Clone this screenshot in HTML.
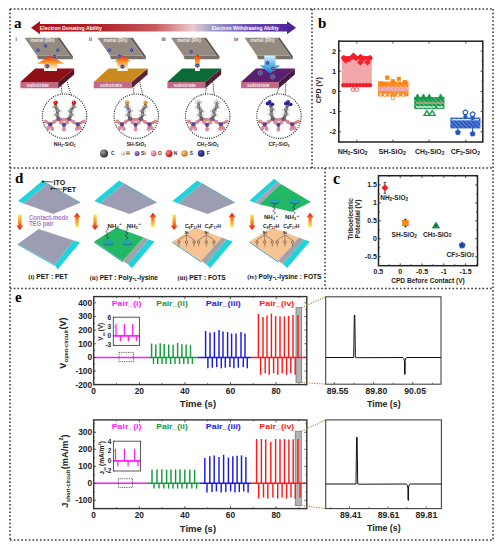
<!DOCTYPE html>
<html><head><meta charset="utf-8"><title>Figure</title>
<style>html,body{margin:0;padding:0;background:#fff;width:501px;height:550px;overflow:hidden}svg{display:block}</style>
</head><body>
<svg width="501" height="550" viewBox="0 0 501 550" style="display:block">
<defs>
<linearGradient id="topArrow" x1="31" x2="296" y1="0" y2="0" gradientUnits="userSpaceOnUse">
 <stop offset="0" stop-color="#a80f18"/><stop offset="0.26" stop-color="#b0222a"/>
 <stop offset="0.47" stop-color="#c85a60"/><stop offset="0.61" stop-color="#eacccc"/>
 <stop offset="0.68" stop-color="#9ea2cc"/><stop offset="0.83" stop-color="#6a48b0"/><stop offset="1" stop-color="#4a1d92"/></linearGradient>
<linearGradient id="upArrow" x1="0" x2="0" y1="0" y2="1">
 <stop offset="0" stop-color="#f21a0a"/><stop offset="0.45" stop-color="#ff9a28"/>
 <stop offset="0.8" stop-color="#ffe6c0"/><stop offset="1" stop-color="#ffffff"/></linearGradient>
<linearGradient id="downArrowBlue" x1="0" x2="0" y1="0" y2="1">
 <stop offset="0" stop-color="#d8f0ff"/><stop offset="0.5" stop-color="#58b8ee"/>
 <stop offset="1" stop-color="#1a78d0"/></linearGradient>
<linearGradient id="dArrowDown" x1="0" x2="0" y1="0" y2="1">
 <stop offset="0" stop-color="#ffe84a"/><stop offset="0.5" stop-color="#ff8a20"/>
 <stop offset="1" stop-color="#e01010"/></linearGradient>
<linearGradient id="dArrowUp" x1="0" x2="0" y1="0" y2="1">
 <stop offset="0" stop-color="#e01010"/><stop offset="0.5" stop-color="#ff8a20"/>
 <stop offset="1" stop-color="#ffe84a"/></linearGradient>
<radialGradient id="elec" cx="0.45" cy="0.45" r="0.6"><stop offset="0" stop-color="#3a4488"/><stop offset="1" stop-color="#1a2058"/></radialGradient>
<radialGradient id="ballC" cx="0.35" cy="0.35" r="0.7"><stop offset="0" stop-color="#a0a0a0"/><stop offset="1" stop-color="#282828"/></radialGradient>
<radialGradient id="ballH" cx="0.35" cy="0.35" r="0.7"><stop offset="0" stop-color="#ffffff"/><stop offset="1" stop-color="#a0a0a0"/></radialGradient>
<radialGradient id="ballSi" cx="0.35" cy="0.35" r="0.7"><stop offset="0" stop-color="#c090e0"/><stop offset="1" stop-color="#5a2a8a"/></radialGradient>
<radialGradient id="ballO" cx="0.35" cy="0.35" r="0.7"><stop offset="0" stop-color="#ffc0d0"/><stop offset="1" stop-color="#c05070"/></radialGradient>
<radialGradient id="ballN" cx="0.35" cy="0.35" r="0.7"><stop offset="0" stop-color="#ff9090"/><stop offset="1" stop-color="#c00000"/></radialGradient>
<radialGradient id="ballS" cx="0.35" cy="0.35" r="0.7"><stop offset="0" stop-color="#ffd080"/><stop offset="1" stop-color="#d06000"/></radialGradient>
<radialGradient id="ballF" cx="0.35" cy="0.35" r="0.7"><stop offset="0" stop-color="#5060c0"/><stop offset="1" stop-color="#0c1260"/></radialGradient>
<pattern id="hatchW" width="3" height="3" patternUnits="userSpaceOnUse" patternTransform="rotate(-45)"><line x1="0" y1="0" x2="0" y2="3" stroke="#ffffff" stroke-width="0.8" stroke-opacity="0.8"/></pattern>
</defs>
<rect width="501" height="550" fill="#ffffff"/>
<line x1="10" y1="9" x2="493" y2="9" stroke="#333" stroke-width="1.6" stroke-dasharray="1.6 2.15"/>
<line x1="10" y1="9" x2="10" y2="540" stroke="#333" stroke-width="1.6" stroke-dasharray="1.6 2.15"/>
<line x1="493" y1="9" x2="493" y2="540" stroke="#333" stroke-width="1.6" stroke-dasharray="1.6 2.15"/>
<line x1="10" y1="540" x2="493" y2="540" stroke="#333" stroke-width="1.6" stroke-dasharray="1.6 2.15"/>
<line x1="312" y1="9" x2="312" y2="168" stroke="#333" stroke-width="1.6" stroke-dasharray="1.6 2.15"/>
<line x1="10" y1="168" x2="493" y2="168" stroke="#333" stroke-width="1.6" stroke-dasharray="1.6 2.15"/>
<line x1="325" y1="168" x2="325" y2="288.5" stroke="#333" stroke-width="1.6" stroke-dasharray="1.6 2.15"/>
<line x1="10" y1="288.5" x2="493" y2="288.5" stroke="#333" stroke-width="1.6" stroke-dasharray="1.6 2.15"/>
<text x="14" y="28" font-size="15" font-weight="bold" fill="#000" text-anchor="start" font-family="Liberation Serif, serif" >a</text>
<text x="318" y="28" font-size="15" font-weight="bold" fill="#000" text-anchor="start" font-family="Liberation Serif, serif" >b</text>
<text x="15" y="183" font-size="15" font-weight="bold" fill="#000" text-anchor="start" font-family="Liberation Serif, serif" >d</text>
<text x="333" y="184" font-size="16" font-weight="bold" fill="#000" text-anchor="start" font-family="Liberation Serif, serif" >c</text>
<text x="15" y="302" font-size="15" font-weight="bold" fill="#000" text-anchor="start" font-family="Liberation Serif, serif" >e</text>
<polygon points="31.00,27.70 40.00,21.20 40.00,24.00 287.00,24.00 287.00,21.20 296.00,27.70 287.00,34.20 287.00,31.40 40.00,31.40 40.00,34.20" fill="url(#topArrow)" stroke="none" stroke-width="0" />
<text x="39.8" y="29.8" font-size="5.9" font-weight="bold" fill="#ffffff" text-anchor="start" font-family="Liberation Sans, sans-serif"  textLength="62" lengthAdjust="spacingAndGlyphs">Electron Donating Ability</text>
<text x="211.8" y="29.8" font-size="5.9" font-weight="bold" fill="#ffffff" text-anchor="start" font-family="Liberation Sans, sans-serif"  textLength="67" lengthAdjust="spacingAndGlyphs">Electron Withdrawing Ability</text>
<text x="15.5" y="40.8" font-size="5" font-weight="bold" fill="#444" text-anchor="start" font-family="Liberation Sans, sans-serif" >i</text>
<text x="89" y="40.8" font-size="5" font-weight="bold" fill="#444" text-anchor="start" font-family="Liberation Sans, sans-serif" >ii</text>
<text x="161.5" y="40.8" font-size="5" font-weight="bold" fill="#444" text-anchor="start" font-family="Liberation Sans, sans-serif" >iii</text>
<text x="234" y="40.8" font-size="5" font-weight="bold" fill="#444" text-anchor="start" font-family="Liberation Sans, sans-serif" >iv</text>
<polygon points="57.00,37.70 59.70,37.70 72.80,56.30 72.80,59.30 70.00,55.80" fill="#5f5a54" stroke="none" stroke-width="0" />
<polygon points="37.00,55.80 70.00,55.80 72.80,59.30 38.00,59.30" fill="#77716a" stroke="none" stroke-width="0" />
<polygon points="24.50,37.70 57.00,37.70 70.00,55.80 37.00,55.80" fill="#948a80" stroke="none" stroke-width="0" />
<text x="30.5" y="41.5" font-size="4.8" font-weight="bold" fill="#ece8e4" text-anchor="start" font-family="Liberation Sans, sans-serif"  textLength="24" lengthAdjust="spacingAndGlyphs">metal (Rh)</text>
<polygon points="20.40,82.00 58.20,82.00 58.20,88.20 20.40,88.20" fill="#c4688a" stroke="none" stroke-width="0" />
<polygon points="58.20,82.00 74.20,68.40 74.20,74.50 58.20,88.20" fill="#5e1428" stroke="none" stroke-width="0" />
<polygon points="35.20,68.40 74.20,68.40 58.20,82.00 20.40,82.00" fill="#8e0f14" stroke="none" stroke-width="0" />
<text x="26.4" y="87.2" font-size="5" font-weight="bold" fill="#f4e6ee" text-anchor="start" font-family="Liberation Sans, sans-serif" >substrate</text>
<polygon points="130.00,37.70 132.70,37.70 145.80,56.30 145.80,59.30 143.00,55.80" fill="#5f5a54" stroke="none" stroke-width="0" />
<polygon points="110.00,55.80 143.00,55.80 145.80,59.30 111.00,59.30" fill="#77716a" stroke="none" stroke-width="0" />
<polygon points="97.50,37.70 130.00,37.70 143.00,55.80 110.00,55.80" fill="#948a80" stroke="none" stroke-width="0" />
<text x="103.5" y="41.5" font-size="4.8" font-weight="bold" fill="#ece8e4" text-anchor="start" font-family="Liberation Sans, sans-serif"  textLength="24" lengthAdjust="spacingAndGlyphs">metal (Rh)</text>
<polygon points="93.80,82.00 131.60,82.00 131.60,88.20 93.80,88.20" fill="#c4688a" stroke="none" stroke-width="0" />
<polygon points="131.60,82.00 147.60,68.40 147.60,74.50 131.60,88.20" fill="#5e2038" stroke="none" stroke-width="0" />
<polygon points="108.60,68.40 147.60,68.40 131.60,82.00 93.80,82.00" fill="#c98a1e" stroke="none" stroke-width="0" />
<text x="99.80000000000001" y="87.2" font-size="5" font-weight="bold" fill="#f4e6ee" text-anchor="start" font-family="Liberation Sans, sans-serif" >substrate</text>
<polygon points="203.50,37.70 206.20,37.70 219.30,56.30 219.30,59.30 216.50,55.80" fill="#5f5a54" stroke="none" stroke-width="0" />
<polygon points="183.50,55.80 216.50,55.80 219.30,59.30 184.50,59.30" fill="#77716a" stroke="none" stroke-width="0" />
<polygon points="171.00,37.70 203.50,37.70 216.50,55.80 183.50,55.80" fill="#948a80" stroke="none" stroke-width="0" />
<text x="177" y="41.5" font-size="4.8" font-weight="bold" fill="#ece8e4" text-anchor="start" font-family="Liberation Sans, sans-serif"  textLength="24" lengthAdjust="spacingAndGlyphs">metal (Rh)</text>
<polygon points="167.40,82.00 205.20,82.00 205.20,88.20 167.40,88.20" fill="#c4688a" stroke="none" stroke-width="0" />
<polygon points="205.20,82.00 221.20,68.40 221.20,74.50 205.20,88.20" fill="#5a1f38" stroke="none" stroke-width="0" />
<polygon points="182.20,68.40 221.20,68.40 205.20,82.00 167.40,82.00" fill="#0c6a36" stroke="none" stroke-width="0" />
<text x="173.4" y="87.2" font-size="5" font-weight="bold" fill="#f4e6ee" text-anchor="start" font-family="Liberation Sans, sans-serif" >substrate</text>
<polygon points="277.00,37.70 279.70,37.70 292.80,56.30 292.80,59.30 290.00,55.80" fill="#5f5a54" stroke="none" stroke-width="0" />
<polygon points="257.00,55.80 290.00,55.80 292.80,59.30 258.00,59.30" fill="#77716a" stroke="none" stroke-width="0" />
<polygon points="244.50,37.70 277.00,37.70 290.00,55.80 257.00,55.80" fill="#948a80" stroke="none" stroke-width="0" />
<text x="250.5" y="41.5" font-size="4.8" font-weight="bold" fill="#ece8e4" text-anchor="start" font-family="Liberation Sans, sans-serif"  textLength="24" lengthAdjust="spacingAndGlyphs">metal (Rh)</text>
<polygon points="241.10,82.00 278.90,82.00 278.90,88.20 241.10,88.20" fill="#c4688a" stroke="none" stroke-width="0" />
<polygon points="278.90,82.00 294.90,68.40 294.90,74.50 278.90,88.20" fill="#4a1a40" stroke="none" stroke-width="0" />
<polygon points="255.90,68.40 294.90,68.40 278.90,82.00 241.10,82.00" fill="#5a2070" stroke="none" stroke-width="0" />
<text x="247.1" y="87.2" font-size="5" font-weight="bold" fill="#f4e6ee" text-anchor="start" font-family="Liberation Sans, sans-serif" >substrate</text>
<polygon points="50.50,55.50 64.50,63.70 57.00,63.70 57.00,71.00 44.00,71.00 44.00,63.70 36.50,63.70" fill="url(#upArrow)" stroke="none" stroke-width="0" />
<polygon points="122.50,55.00 130.50,61.40 127.70,61.40 127.70,71.00 117.30,71.00 117.30,61.40 114.50,61.40" fill="url(#upArrow)" stroke="none" stroke-width="0" />
<polygon points="197.40,54.20 201.70,58.40 199.80,58.40 199.80,71.00 195.00,71.00 195.00,58.40 193.10,58.40" fill="url(#upArrow)" stroke="none" stroke-width="0" />
<polygon points="264.30,55.50 275.50,55.50 275.50,65.30 280.50,65.30 270.00,73.50 259.50,65.30 264.30,65.30" fill="url(#downArrowBlue)" stroke="none" stroke-width="0" />
<circle cx="38" cy="50.2" r="2.1" fill="url(#elec)" stroke="#9aa4d4" stroke-width="0.7"/>
<line x1="37.1" y1="50.2" x2="38.9" y2="50.2" stroke="#fff" stroke-width="0.5"/>
<circle cx="45.5" cy="45.9" r="2.1" fill="url(#elec)" stroke="#9aa4d4" stroke-width="0.7"/>
<line x1="44.6" y1="45.9" x2="46.4" y2="45.9" stroke="#fff" stroke-width="0.5"/>
<circle cx="57.9" cy="50.2" r="2.1" fill="url(#elec)" stroke="#9aa4d4" stroke-width="0.7"/>
<line x1="57.0" y1="50.2" x2="58.8" y2="50.2" stroke="#fff" stroke-width="0.5"/>
<circle cx="54.4" cy="56.6" r="2.1" fill="url(#elec)" stroke="#9aa4d4" stroke-width="0.7"/>
<line x1="53.5" y1="56.6" x2="55.3" y2="56.6" stroke="#fff" stroke-width="0.5"/>
<circle cx="47.2" cy="66.1" r="2.1" fill="url(#elec)" stroke="#9aa4d4" stroke-width="0.7"/>
<line x1="46.300000000000004" y1="66.1" x2="48.1" y2="66.1" stroke="#fff" stroke-width="0.5"/>
<circle cx="109.5" cy="50.2" r="2.1" fill="url(#elec)" stroke="#9aa4d4" stroke-width="0.7"/>
<line x1="108.6" y1="50.2" x2="110.4" y2="50.2" stroke="#fff" stroke-width="0.5"/>
<circle cx="131.5" cy="50.2" r="2.1" fill="url(#elec)" stroke="#9aa4d4" stroke-width="0.7"/>
<line x1="130.6" y1="50.2" x2="132.4" y2="50.2" stroke="#fff" stroke-width="0.5"/>
<circle cx="119.5" cy="56.2" r="2.1" fill="url(#elec)" stroke="#9aa4d4" stroke-width="0.7"/>
<line x1="118.6" y1="56.2" x2="120.4" y2="56.2" stroke="#fff" stroke-width="0.5"/>
<circle cx="122.5" cy="66.5" r="2.1" fill="url(#elec)" stroke="#9aa4d4" stroke-width="0.7"/>
<line x1="121.6" y1="66.5" x2="123.4" y2="66.5" stroke="#fff" stroke-width="0.5"/>
<circle cx="191" cy="51.8" r="2.1" fill="url(#elec)" stroke="#9aa4d4" stroke-width="0.7"/>
<line x1="190.1" y1="51.8" x2="191.9" y2="51.8" stroke="#fff" stroke-width="0.5"/>
<circle cx="197.3" cy="65.3" r="2.1" fill="url(#elec)" stroke="#9aa4d4" stroke-width="0.7"/>
<line x1="196.4" y1="65.3" x2="198.20000000000002" y2="65.3" stroke="#fff" stroke-width="0.5"/>
<circle cx="267.5" cy="63" r="2.1" fill="url(#elec)" stroke="#9aa4d4" stroke-width="0.7"/>
<line x1="266.6" y1="63" x2="268.4" y2="63" stroke="#fff" stroke-width="0.5"/>
<circle cx="272.8" cy="68.5" r="2.1" fill="url(#elec)" stroke="#9aa4d4" stroke-width="0.7"/>
<line x1="271.90000000000003" y1="68.5" x2="273.7" y2="68.5" stroke="#fff" stroke-width="0.5"/>
<circle cx="260.3" cy="73" r="2.1" fill="url(#elec)" stroke="#9aa4d4" stroke-width="0.7"/>
<line x1="259.40000000000003" y1="73" x2="261.2" y2="73" stroke="#fff" stroke-width="0.5"/>
<circle cx="272.8" cy="76.8" r="2.1" fill="url(#elec)" stroke="#9aa4d4" stroke-width="0.7"/>
<line x1="271.90000000000003" y1="76.8" x2="273.7" y2="76.8" stroke="#fff" stroke-width="0.5"/>
<line x1="60.9" y1="82" x2="62.099999999999994" y2="94.5" stroke="#222" stroke-width="1" stroke-dasharray="1 1.1"/>
<line x1="65.9" y1="78" x2="71.1" y2="95" stroke="#222" stroke-width="1" stroke-dasharray="1 1.1"/>
<circle cx="64.6" cy="116.2" r="22.2" fill="#fff" stroke="#222" stroke-width="1.1" stroke-dasharray="1.1 1.2"/>
<line x1="45.70" y1="121.50" x2="50.30" y2="124.30" stroke="#cc7a84" stroke-width="2.6" stroke-linecap="round"/>
<line x1="50.30" y1="124.30" x2="54.00" y2="122.00" stroke="#cc7a84" stroke-width="2.6" stroke-linecap="round"/>
<line x1="54.00" y1="122.00" x2="58.50" y2="118.80" stroke="#cc7a84" stroke-width="2.6" stroke-linecap="round"/>
<line x1="58.50" y1="118.80" x2="63.80" y2="119.80" stroke="#cc7a84" stroke-width="2.6" stroke-linecap="round"/>
<line x1="63.80" y1="119.80" x2="69.10" y2="118.80" stroke="#cc7a84" stroke-width="2.6" stroke-linecap="round"/>
<line x1="69.10" y1="118.80" x2="73.40" y2="122.00" stroke="#cc7a84" stroke-width="2.6" stroke-linecap="round"/>
<line x1="73.40" y1="122.00" x2="77.80" y2="124.30" stroke="#cc7a84" stroke-width="2.6" stroke-linecap="round"/>
<line x1="77.80" y1="124.30" x2="83.80" y2="121.50" stroke="#cc7a84" stroke-width="2.6" stroke-linecap="round"/>
<line x1="50.30" y1="124.30" x2="52.30" y2="128.90" stroke="#cc7a84" stroke-width="2.6" stroke-linecap="round"/>
<line x1="64.00" y1="124.80" x2="64.00" y2="129.50" stroke="#cc7a84" stroke-width="2.6" stroke-linecap="round"/>
<line x1="77.80" y1="124.30" x2="76.90" y2="128.90" stroke="#cc7a84" stroke-width="2.6" stroke-linecap="round"/>
<line x1="58.50" y1="118.80" x2="61.00" y2="122.50" stroke="#cc7a84" stroke-width="2.6" stroke-linecap="round"/>
<line x1="61.00" y1="122.50" x2="64.00" y2="124.80" stroke="#cc7a84" stroke-width="2.6" stroke-linecap="round"/>
<line x1="64.00" y1="124.80" x2="67.20" y2="122.50" stroke="#cc7a84" stroke-width="2.6" stroke-linecap="round"/>
<line x1="67.20" y1="122.50" x2="69.10" y2="118.80" stroke="#cc7a84" stroke-width="2.6" stroke-linecap="round"/>
<line x1="50.30" y1="124.30" x2="48.10" y2="128.20" stroke="#cc7a84" stroke-width="2.6" stroke-linecap="round"/>
<line x1="77.80" y1="124.30" x2="80.10" y2="128.20" stroke="#cc7a84" stroke-width="2.6" stroke-linecap="round"/>
<circle cx="45.70" cy="121.50" r="1.9" fill="#e08a94"/>
<circle cx="54.00" cy="122.00" r="1.9" fill="#e08a94"/>
<circle cx="63.80" cy="119.80" r="1.9" fill="#e08a94"/>
<circle cx="73.40" cy="122.00" r="1.9" fill="#e08a94"/>
<circle cx="83.80" cy="121.50" r="1.9" fill="#e08a94"/>
<circle cx="52.30" cy="128.90" r="1.9" fill="#e08a94"/>
<circle cx="64.00" cy="129.50" r="1.9" fill="#e08a94"/>
<circle cx="76.90" cy="128.90" r="1.9" fill="#e08a94"/>
<circle cx="61.00" cy="122.50" r="1.9" fill="#e08a94"/>
<circle cx="67.20" cy="122.50" r="1.9" fill="#e08a94"/>
<circle cx="48.10" cy="128.20" r="1.9" fill="#e08a94"/>
<circle cx="80.10" cy="128.20" r="1.9" fill="#e08a94"/>
<circle cx="58.50" cy="118.80" r="2" fill="#4a4a9c"/>
<circle cx="69.10" cy="118.80" r="2" fill="#4a4a9c"/>
<circle cx="50.30" cy="124.30" r="2" fill="#4a4a9c"/>
<circle cx="64.00" cy="124.80" r="2" fill="#4a4a9c"/>
<circle cx="77.80" cy="124.30" r="2" fill="#4a4a9c"/>
<path d="M58.50,118.80 L56.87,114.75 L57.95,110.70 L55.42,106.65 L55.60,102.60" fill="none" stroke="#666" stroke-width="2.8" stroke-linecap="round" stroke-linejoin="round"/>
<circle cx="54.47" cy="115.15" r="1.05" fill="#e6e6e6" stroke="#9a9a9a" stroke-width="0.35"/>
<circle cx="59.27" cy="115.15" r="1.05" fill="#e6e6e6" stroke="#9a9a9a" stroke-width="0.35"/>
<circle cx="56.87" cy="114.75" r="1.8" fill="#7c7c7c"/>
<circle cx="56.37" cy="114.25" r="0.7" fill="#bdbdbd"/>
<circle cx="55.55" cy="111.10" r="1.05" fill="#e6e6e6" stroke="#9a9a9a" stroke-width="0.35"/>
<circle cx="60.35" cy="111.10" r="1.05" fill="#e6e6e6" stroke="#9a9a9a" stroke-width="0.35"/>
<circle cx="57.95" cy="110.70" r="1.8" fill="#7c7c7c"/>
<circle cx="57.45" cy="110.20" r="0.7" fill="#bdbdbd"/>
<circle cx="53.02" cy="107.05" r="1.05" fill="#e6e6e6" stroke="#9a9a9a" stroke-width="0.35"/>
<circle cx="57.82" cy="107.05" r="1.05" fill="#e6e6e6" stroke="#9a9a9a" stroke-width="0.35"/>
<circle cx="55.42" cy="106.65" r="1.8" fill="#7c7c7c"/>
<circle cx="54.92" cy="106.15" r="0.7" fill="#bdbdbd"/>
<circle cx="55.60" cy="102.60" r="2.2" fill="#e80c0c"/><circle cx="55.00" cy="101.90" r="0.8" fill="#ff7070"/><circle cx="55.00" cy="100.00" r="0.9" fill="#eee" stroke="#aaa" stroke-width="0.3"/>
<path d="M69.10,118.80 L71.20,114.75 L70.60,110.70 L73.60,106.65 L73.90,102.60" fill="none" stroke="#666" stroke-width="2.8" stroke-linecap="round" stroke-linejoin="round"/>
<circle cx="68.80" cy="115.15" r="1.05" fill="#e6e6e6" stroke="#9a9a9a" stroke-width="0.35"/>
<circle cx="73.60" cy="115.15" r="1.05" fill="#e6e6e6" stroke="#9a9a9a" stroke-width="0.35"/>
<circle cx="71.20" cy="114.75" r="1.8" fill="#7c7c7c"/>
<circle cx="70.70" cy="114.25" r="0.7" fill="#bdbdbd"/>
<circle cx="68.20" cy="111.10" r="1.05" fill="#e6e6e6" stroke="#9a9a9a" stroke-width="0.35"/>
<circle cx="73.00" cy="111.10" r="1.05" fill="#e6e6e6" stroke="#9a9a9a" stroke-width="0.35"/>
<circle cx="70.60" cy="110.70" r="1.8" fill="#7c7c7c"/>
<circle cx="70.10" cy="110.20" r="0.7" fill="#bdbdbd"/>
<circle cx="71.20" cy="107.05" r="1.05" fill="#e6e6e6" stroke="#9a9a9a" stroke-width="0.35"/>
<circle cx="76.00" cy="107.05" r="1.05" fill="#e6e6e6" stroke="#9a9a9a" stroke-width="0.35"/>
<circle cx="73.60" cy="106.65" r="1.8" fill="#7c7c7c"/>
<circle cx="73.10" cy="106.15" r="0.7" fill="#bdbdbd"/>
<circle cx="73.90" cy="102.60" r="2.2" fill="#e80c0c"/><circle cx="73.30" cy="101.90" r="0.8" fill="#ff7070"/><circle cx="73.30" cy="100.00" r="0.9" fill="#eee" stroke="#aaa" stroke-width="0.3"/>
<line x1="133.9" y1="82" x2="133.7" y2="94.5" stroke="#222" stroke-width="1" stroke-dasharray="1 1.1"/>
<line x1="138.9" y1="78" x2="142.7" y2="95" stroke="#222" stroke-width="1" stroke-dasharray="1 1.1"/>
<circle cx="136.2" cy="116.2" r="22.2" fill="#fff" stroke="#222" stroke-width="1.1" stroke-dasharray="1.1 1.2"/>
<line x1="117.30" y1="121.50" x2="121.90" y2="124.30" stroke="#cc7a84" stroke-width="2.6" stroke-linecap="round"/>
<line x1="121.90" y1="124.30" x2="125.60" y2="122.00" stroke="#cc7a84" stroke-width="2.6" stroke-linecap="round"/>
<line x1="125.60" y1="122.00" x2="130.10" y2="118.80" stroke="#cc7a84" stroke-width="2.6" stroke-linecap="round"/>
<line x1="130.10" y1="118.80" x2="135.40" y2="119.80" stroke="#cc7a84" stroke-width="2.6" stroke-linecap="round"/>
<line x1="135.40" y1="119.80" x2="140.70" y2="118.80" stroke="#cc7a84" stroke-width="2.6" stroke-linecap="round"/>
<line x1="140.70" y1="118.80" x2="145.00" y2="122.00" stroke="#cc7a84" stroke-width="2.6" stroke-linecap="round"/>
<line x1="145.00" y1="122.00" x2="149.40" y2="124.30" stroke="#cc7a84" stroke-width="2.6" stroke-linecap="round"/>
<line x1="149.40" y1="124.30" x2="155.40" y2="121.50" stroke="#cc7a84" stroke-width="2.6" stroke-linecap="round"/>
<line x1="121.90" y1="124.30" x2="123.90" y2="128.90" stroke="#cc7a84" stroke-width="2.6" stroke-linecap="round"/>
<line x1="135.60" y1="124.80" x2="135.60" y2="129.50" stroke="#cc7a84" stroke-width="2.6" stroke-linecap="round"/>
<line x1="149.40" y1="124.30" x2="148.50" y2="128.90" stroke="#cc7a84" stroke-width="2.6" stroke-linecap="round"/>
<line x1="130.10" y1="118.80" x2="132.60" y2="122.50" stroke="#cc7a84" stroke-width="2.6" stroke-linecap="round"/>
<line x1="132.60" y1="122.50" x2="135.60" y2="124.80" stroke="#cc7a84" stroke-width="2.6" stroke-linecap="round"/>
<line x1="135.60" y1="124.80" x2="138.80" y2="122.50" stroke="#cc7a84" stroke-width="2.6" stroke-linecap="round"/>
<line x1="138.80" y1="122.50" x2="140.70" y2="118.80" stroke="#cc7a84" stroke-width="2.6" stroke-linecap="round"/>
<line x1="121.90" y1="124.30" x2="119.70" y2="128.20" stroke="#cc7a84" stroke-width="2.6" stroke-linecap="round"/>
<line x1="149.40" y1="124.30" x2="151.70" y2="128.20" stroke="#cc7a84" stroke-width="2.6" stroke-linecap="round"/>
<circle cx="117.30" cy="121.50" r="1.9" fill="#e08a94"/>
<circle cx="125.60" cy="122.00" r="1.9" fill="#e08a94"/>
<circle cx="135.40" cy="119.80" r="1.9" fill="#e08a94"/>
<circle cx="145.00" cy="122.00" r="1.9" fill="#e08a94"/>
<circle cx="155.40" cy="121.50" r="1.9" fill="#e08a94"/>
<circle cx="123.90" cy="128.90" r="1.9" fill="#e08a94"/>
<circle cx="135.60" cy="129.50" r="1.9" fill="#e08a94"/>
<circle cx="148.50" cy="128.90" r="1.9" fill="#e08a94"/>
<circle cx="132.60" cy="122.50" r="1.9" fill="#e08a94"/>
<circle cx="138.80" cy="122.50" r="1.9" fill="#e08a94"/>
<circle cx="119.70" cy="128.20" r="1.9" fill="#e08a94"/>
<circle cx="151.70" cy="128.20" r="1.9" fill="#e08a94"/>
<circle cx="130.10" cy="118.80" r="2" fill="#4a4a9c"/>
<circle cx="140.70" cy="118.80" r="2" fill="#4a4a9c"/>
<circle cx="121.90" cy="124.30" r="2" fill="#4a4a9c"/>
<circle cx="135.60" cy="124.80" r="2" fill="#4a4a9c"/>
<circle cx="149.40" cy="124.30" r="2" fill="#4a4a9c"/>
<path d="M130.10,118.80 L128.47,114.75 L129.55,110.70 L127.02,106.65 L127.20,102.60" fill="none" stroke="#666" stroke-width="2.8" stroke-linecap="round" stroke-linejoin="round"/>
<circle cx="126.07" cy="115.15" r="1.05" fill="#e6e6e6" stroke="#9a9a9a" stroke-width="0.35"/>
<circle cx="130.88" cy="115.15" r="1.05" fill="#e6e6e6" stroke="#9a9a9a" stroke-width="0.35"/>
<circle cx="128.47" cy="114.75" r="1.8" fill="#7c7c7c"/>
<circle cx="127.97" cy="114.25" r="0.7" fill="#bdbdbd"/>
<circle cx="127.15" cy="111.10" r="1.05" fill="#e6e6e6" stroke="#9a9a9a" stroke-width="0.35"/>
<circle cx="131.95" cy="111.10" r="1.05" fill="#e6e6e6" stroke="#9a9a9a" stroke-width="0.35"/>
<circle cx="129.55" cy="110.70" r="1.8" fill="#7c7c7c"/>
<circle cx="129.05" cy="110.20" r="0.7" fill="#bdbdbd"/>
<circle cx="124.62" cy="107.05" r="1.05" fill="#e6e6e6" stroke="#9a9a9a" stroke-width="0.35"/>
<circle cx="129.42" cy="107.05" r="1.05" fill="#e6e6e6" stroke="#9a9a9a" stroke-width="0.35"/>
<circle cx="127.02" cy="106.65" r="1.8" fill="#7c7c7c"/>
<circle cx="126.52" cy="106.15" r="0.7" fill="#bdbdbd"/>
<circle cx="127.20" cy="102.60" r="2.1" fill="#ee8410"/><circle cx="126.60" cy="101.90" r="0.8" fill="#ffc070"/>
<path d="M140.70,118.80 L142.80,114.75 L142.20,110.70 L145.20,106.65 L145.50,102.60" fill="none" stroke="#666" stroke-width="2.8" stroke-linecap="round" stroke-linejoin="round"/>
<circle cx="140.40" cy="115.15" r="1.05" fill="#e6e6e6" stroke="#9a9a9a" stroke-width="0.35"/>
<circle cx="145.20" cy="115.15" r="1.05" fill="#e6e6e6" stroke="#9a9a9a" stroke-width="0.35"/>
<circle cx="142.80" cy="114.75" r="1.8" fill="#7c7c7c"/>
<circle cx="142.30" cy="114.25" r="0.7" fill="#bdbdbd"/>
<circle cx="139.80" cy="111.10" r="1.05" fill="#e6e6e6" stroke="#9a9a9a" stroke-width="0.35"/>
<circle cx="144.60" cy="111.10" r="1.05" fill="#e6e6e6" stroke="#9a9a9a" stroke-width="0.35"/>
<circle cx="142.20" cy="110.70" r="1.8" fill="#7c7c7c"/>
<circle cx="141.70" cy="110.20" r="0.7" fill="#bdbdbd"/>
<circle cx="142.80" cy="107.05" r="1.05" fill="#e6e6e6" stroke="#9a9a9a" stroke-width="0.35"/>
<circle cx="147.60" cy="107.05" r="1.05" fill="#e6e6e6" stroke="#9a9a9a" stroke-width="0.35"/>
<circle cx="145.20" cy="106.65" r="1.8" fill="#7c7c7c"/>
<circle cx="144.70" cy="106.15" r="0.7" fill="#bdbdbd"/>
<circle cx="145.50" cy="102.60" r="2.1" fill="#ee8410"/><circle cx="144.90" cy="101.90" r="0.8" fill="#ffc070"/>
<line x1="207.4" y1="82" x2="205.2" y2="94.5" stroke="#222" stroke-width="1" stroke-dasharray="1 1.1"/>
<line x1="212.4" y1="78" x2="214.2" y2="95" stroke="#222" stroke-width="1" stroke-dasharray="1 1.1"/>
<circle cx="207.7" cy="116.2" r="22.2" fill="#fff" stroke="#222" stroke-width="1.1" stroke-dasharray="1.1 1.2"/>
<line x1="188.80" y1="121.50" x2="193.40" y2="124.30" stroke="#cc7a84" stroke-width="2.6" stroke-linecap="round"/>
<line x1="193.40" y1="124.30" x2="197.10" y2="122.00" stroke="#cc7a84" stroke-width="2.6" stroke-linecap="round"/>
<line x1="197.10" y1="122.00" x2="201.60" y2="118.80" stroke="#cc7a84" stroke-width="2.6" stroke-linecap="round"/>
<line x1="201.60" y1="118.80" x2="206.90" y2="119.80" stroke="#cc7a84" stroke-width="2.6" stroke-linecap="round"/>
<line x1="206.90" y1="119.80" x2="212.20" y2="118.80" stroke="#cc7a84" stroke-width="2.6" stroke-linecap="round"/>
<line x1="212.20" y1="118.80" x2="216.50" y2="122.00" stroke="#cc7a84" stroke-width="2.6" stroke-linecap="round"/>
<line x1="216.50" y1="122.00" x2="220.90" y2="124.30" stroke="#cc7a84" stroke-width="2.6" stroke-linecap="round"/>
<line x1="220.90" y1="124.30" x2="226.90" y2="121.50" stroke="#cc7a84" stroke-width="2.6" stroke-linecap="round"/>
<line x1="193.40" y1="124.30" x2="195.40" y2="128.90" stroke="#cc7a84" stroke-width="2.6" stroke-linecap="round"/>
<line x1="207.10" y1="124.80" x2="207.10" y2="129.50" stroke="#cc7a84" stroke-width="2.6" stroke-linecap="round"/>
<line x1="220.90" y1="124.30" x2="220.00" y2="128.90" stroke="#cc7a84" stroke-width="2.6" stroke-linecap="round"/>
<line x1="201.60" y1="118.80" x2="204.10" y2="122.50" stroke="#cc7a84" stroke-width="2.6" stroke-linecap="round"/>
<line x1="204.10" y1="122.50" x2="207.10" y2="124.80" stroke="#cc7a84" stroke-width="2.6" stroke-linecap="round"/>
<line x1="207.10" y1="124.80" x2="210.30" y2="122.50" stroke="#cc7a84" stroke-width="2.6" stroke-linecap="round"/>
<line x1="210.30" y1="122.50" x2="212.20" y2="118.80" stroke="#cc7a84" stroke-width="2.6" stroke-linecap="round"/>
<line x1="193.40" y1="124.30" x2="191.20" y2="128.20" stroke="#cc7a84" stroke-width="2.6" stroke-linecap="round"/>
<line x1="220.90" y1="124.30" x2="223.20" y2="128.20" stroke="#cc7a84" stroke-width="2.6" stroke-linecap="round"/>
<circle cx="188.80" cy="121.50" r="1.9" fill="#e08a94"/>
<circle cx="197.10" cy="122.00" r="1.9" fill="#e08a94"/>
<circle cx="206.90" cy="119.80" r="1.9" fill="#e08a94"/>
<circle cx="216.50" cy="122.00" r="1.9" fill="#e08a94"/>
<circle cx="226.90" cy="121.50" r="1.9" fill="#e08a94"/>
<circle cx="195.40" cy="128.90" r="1.9" fill="#e08a94"/>
<circle cx="207.10" cy="129.50" r="1.9" fill="#e08a94"/>
<circle cx="220.00" cy="128.90" r="1.9" fill="#e08a94"/>
<circle cx="204.10" cy="122.50" r="1.9" fill="#e08a94"/>
<circle cx="210.30" cy="122.50" r="1.9" fill="#e08a94"/>
<circle cx="191.20" cy="128.20" r="1.9" fill="#e08a94"/>
<circle cx="223.20" cy="128.20" r="1.9" fill="#e08a94"/>
<circle cx="201.60" cy="118.80" r="2" fill="#4a4a9c"/>
<circle cx="212.20" cy="118.80" r="2" fill="#4a4a9c"/>
<circle cx="193.40" cy="124.30" r="2" fill="#4a4a9c"/>
<circle cx="207.10" cy="124.80" r="2" fill="#4a4a9c"/>
<circle cx="220.90" cy="124.30" r="2" fill="#4a4a9c"/>
<path d="M201.60,118.80 L199.97,114.85 L201.05,110.90 L198.52,106.95 L198.70,103.00" fill="none" stroke="#666" stroke-width="2.8" stroke-linecap="round" stroke-linejoin="round"/>
<circle cx="197.57" cy="115.25" r="1.05" fill="#e6e6e6" stroke="#9a9a9a" stroke-width="0.35"/>
<circle cx="202.38" cy="115.25" r="1.05" fill="#e6e6e6" stroke="#9a9a9a" stroke-width="0.35"/>
<circle cx="199.97" cy="114.85" r="1.8" fill="#7c7c7c"/>
<circle cx="199.47" cy="114.35" r="0.7" fill="#bdbdbd"/>
<circle cx="198.65" cy="111.30" r="1.05" fill="#e6e6e6" stroke="#9a9a9a" stroke-width="0.35"/>
<circle cx="203.45" cy="111.30" r="1.05" fill="#e6e6e6" stroke="#9a9a9a" stroke-width="0.35"/>
<circle cx="201.05" cy="110.90" r="1.8" fill="#7c7c7c"/>
<circle cx="200.55" cy="110.40" r="0.7" fill="#bdbdbd"/>
<circle cx="196.12" cy="107.35" r="1.05" fill="#e6e6e6" stroke="#9a9a9a" stroke-width="0.35"/>
<circle cx="200.92" cy="107.35" r="1.05" fill="#e6e6e6" stroke="#9a9a9a" stroke-width="0.35"/>
<circle cx="198.52" cy="106.95" r="1.8" fill="#7c7c7c"/>
<circle cx="198.02" cy="106.45" r="0.7" fill="#bdbdbd"/>
<circle cx="198.70" cy="103.00" r="1.8" fill="#8c8c8c"/>
<circle cx="196.50" cy="102.40" r="1.15" fill="#e6e6e6" stroke="#9a9a9a" stroke-width="0.35"/>
<circle cx="200.90" cy="102.40" r="1.15" fill="#e6e6e6" stroke="#9a9a9a" stroke-width="0.35"/>
<circle cx="198.70" cy="100.80" r="1.15" fill="#e6e6e6" stroke="#9a9a9a" stroke-width="0.35"/>
<path d="M212.20,118.80 L214.30,114.85 L213.70,110.90 L216.70,106.95 L217.00,103.00" fill="none" stroke="#666" stroke-width="2.8" stroke-linecap="round" stroke-linejoin="round"/>
<circle cx="211.90" cy="115.25" r="1.05" fill="#e6e6e6" stroke="#9a9a9a" stroke-width="0.35"/>
<circle cx="216.70" cy="115.25" r="1.05" fill="#e6e6e6" stroke="#9a9a9a" stroke-width="0.35"/>
<circle cx="214.30" cy="114.85" r="1.8" fill="#7c7c7c"/>
<circle cx="213.80" cy="114.35" r="0.7" fill="#bdbdbd"/>
<circle cx="211.30" cy="111.30" r="1.05" fill="#e6e6e6" stroke="#9a9a9a" stroke-width="0.35"/>
<circle cx="216.10" cy="111.30" r="1.05" fill="#e6e6e6" stroke="#9a9a9a" stroke-width="0.35"/>
<circle cx="213.70" cy="110.90" r="1.8" fill="#7c7c7c"/>
<circle cx="213.20" cy="110.40" r="0.7" fill="#bdbdbd"/>
<circle cx="214.30" cy="107.35" r="1.05" fill="#e6e6e6" stroke="#9a9a9a" stroke-width="0.35"/>
<circle cx="219.10" cy="107.35" r="1.05" fill="#e6e6e6" stroke="#9a9a9a" stroke-width="0.35"/>
<circle cx="216.70" cy="106.95" r="1.8" fill="#7c7c7c"/>
<circle cx="216.20" cy="106.45" r="0.7" fill="#bdbdbd"/>
<circle cx="217.00" cy="103.00" r="1.8" fill="#8c8c8c"/>
<circle cx="214.80" cy="102.40" r="1.15" fill="#e6e6e6" stroke="#9a9a9a" stroke-width="0.35"/>
<circle cx="219.20" cy="102.40" r="1.15" fill="#e6e6e6" stroke="#9a9a9a" stroke-width="0.35"/>
<circle cx="217.00" cy="100.80" r="1.15" fill="#e6e6e6" stroke="#9a9a9a" stroke-width="0.35"/>
<line x1="280.9" y1="82" x2="276.5" y2="94.5" stroke="#222" stroke-width="1" stroke-dasharray="1 1.1"/>
<line x1="285.9" y1="78" x2="285.5" y2="95" stroke="#222" stroke-width="1" stroke-dasharray="1 1.1"/>
<circle cx="279" cy="116.2" r="22.2" fill="#fff" stroke="#222" stroke-width="1.1" stroke-dasharray="1.1 1.2"/>
<line x1="260.10" y1="121.50" x2="264.70" y2="124.30" stroke="#cc7a84" stroke-width="2.6" stroke-linecap="round"/>
<line x1="264.70" y1="124.30" x2="268.40" y2="122.00" stroke="#cc7a84" stroke-width="2.6" stroke-linecap="round"/>
<line x1="268.40" y1="122.00" x2="272.90" y2="118.80" stroke="#cc7a84" stroke-width="2.6" stroke-linecap="round"/>
<line x1="272.90" y1="118.80" x2="278.20" y2="119.80" stroke="#cc7a84" stroke-width="2.6" stroke-linecap="round"/>
<line x1="278.20" y1="119.80" x2="283.50" y2="118.80" stroke="#cc7a84" stroke-width="2.6" stroke-linecap="round"/>
<line x1="283.50" y1="118.80" x2="287.80" y2="122.00" stroke="#cc7a84" stroke-width="2.6" stroke-linecap="round"/>
<line x1="287.80" y1="122.00" x2="292.20" y2="124.30" stroke="#cc7a84" stroke-width="2.6" stroke-linecap="round"/>
<line x1="292.20" y1="124.30" x2="298.20" y2="121.50" stroke="#cc7a84" stroke-width="2.6" stroke-linecap="round"/>
<line x1="264.70" y1="124.30" x2="266.70" y2="128.90" stroke="#cc7a84" stroke-width="2.6" stroke-linecap="round"/>
<line x1="278.40" y1="124.80" x2="278.40" y2="129.50" stroke="#cc7a84" stroke-width="2.6" stroke-linecap="round"/>
<line x1="292.20" y1="124.30" x2="291.30" y2="128.90" stroke="#cc7a84" stroke-width="2.6" stroke-linecap="round"/>
<line x1="272.90" y1="118.80" x2="275.40" y2="122.50" stroke="#cc7a84" stroke-width="2.6" stroke-linecap="round"/>
<line x1="275.40" y1="122.50" x2="278.40" y2="124.80" stroke="#cc7a84" stroke-width="2.6" stroke-linecap="round"/>
<line x1="278.40" y1="124.80" x2="281.60" y2="122.50" stroke="#cc7a84" stroke-width="2.6" stroke-linecap="round"/>
<line x1="281.60" y1="122.50" x2="283.50" y2="118.80" stroke="#cc7a84" stroke-width="2.6" stroke-linecap="round"/>
<line x1="264.70" y1="124.30" x2="262.50" y2="128.20" stroke="#cc7a84" stroke-width="2.6" stroke-linecap="round"/>
<line x1="292.20" y1="124.30" x2="294.50" y2="128.20" stroke="#cc7a84" stroke-width="2.6" stroke-linecap="round"/>
<circle cx="260.10" cy="121.50" r="1.9" fill="#e08a94"/>
<circle cx="268.40" cy="122.00" r="1.9" fill="#e08a94"/>
<circle cx="278.20" cy="119.80" r="1.9" fill="#e08a94"/>
<circle cx="287.80" cy="122.00" r="1.9" fill="#e08a94"/>
<circle cx="298.20" cy="121.50" r="1.9" fill="#e08a94"/>
<circle cx="266.70" cy="128.90" r="1.9" fill="#e08a94"/>
<circle cx="278.40" cy="129.50" r="1.9" fill="#e08a94"/>
<circle cx="291.30" cy="128.90" r="1.9" fill="#e08a94"/>
<circle cx="275.40" cy="122.50" r="1.9" fill="#e08a94"/>
<circle cx="281.60" cy="122.50" r="1.9" fill="#e08a94"/>
<circle cx="262.50" cy="128.20" r="1.9" fill="#e08a94"/>
<circle cx="294.50" cy="128.20" r="1.9" fill="#e08a94"/>
<circle cx="272.90" cy="118.80" r="2" fill="#4a4a9c"/>
<circle cx="283.50" cy="118.80" r="2" fill="#4a4a9c"/>
<circle cx="264.70" cy="124.30" r="2" fill="#4a4a9c"/>
<circle cx="278.40" cy="124.80" r="2" fill="#4a4a9c"/>
<circle cx="292.20" cy="124.30" r="2" fill="#4a4a9c"/>
<path d="M272.90,118.80 L271.03,114.07 L271.87,109.33 L270.00,104.60" fill="none" stroke="#666" stroke-width="2.8" stroke-linecap="round" stroke-linejoin="round"/>
<circle cx="268.63" cy="114.47" r="1.05" fill="#e6e6e6" stroke="#9a9a9a" stroke-width="0.35"/>
<circle cx="273.43" cy="114.47" r="1.05" fill="#e6e6e6" stroke="#9a9a9a" stroke-width="0.35"/>
<circle cx="271.03" cy="114.07" r="1.8" fill="#7c7c7c"/>
<circle cx="270.53" cy="113.57" r="0.7" fill="#bdbdbd"/>
<circle cx="269.47" cy="109.73" r="1.05" fill="#e6e6e6" stroke="#9a9a9a" stroke-width="0.35"/>
<circle cx="274.27" cy="109.73" r="1.05" fill="#e6e6e6" stroke="#9a9a9a" stroke-width="0.35"/>
<circle cx="271.87" cy="109.33" r="1.8" fill="#7c7c7c"/>
<circle cx="271.37" cy="108.83" r="0.7" fill="#bdbdbd"/>
<circle cx="267.60" cy="103.40" r="1.9" fill="#1c1c8c"/>
<circle cx="267.00" cy="102.80" r="0.7" fill="#5a5ac0"/>
<circle cx="272.30" cy="104.30" r="1.9" fill="#1c1c8c"/>
<circle cx="271.70" cy="103.70" r="0.7" fill="#5a5ac0"/>
<circle cx="269.70" cy="102.00" r="1.9" fill="#1c1c8c"/>
<circle cx="269.10" cy="101.40" r="0.7" fill="#5a5ac0"/>
<path d="M283.50,118.80 L286.00,114.07 L285.80,109.33 L288.30,104.60" fill="none" stroke="#666" stroke-width="2.8" stroke-linecap="round" stroke-linejoin="round"/>
<circle cx="283.60" cy="114.47" r="1.05" fill="#e6e6e6" stroke="#9a9a9a" stroke-width="0.35"/>
<circle cx="288.40" cy="114.47" r="1.05" fill="#e6e6e6" stroke="#9a9a9a" stroke-width="0.35"/>
<circle cx="286.00" cy="114.07" r="1.8" fill="#7c7c7c"/>
<circle cx="285.50" cy="113.57" r="0.7" fill="#bdbdbd"/>
<circle cx="283.40" cy="109.73" r="1.05" fill="#e6e6e6" stroke="#9a9a9a" stroke-width="0.35"/>
<circle cx="288.20" cy="109.73" r="1.05" fill="#e6e6e6" stroke="#9a9a9a" stroke-width="0.35"/>
<circle cx="285.80" cy="109.33" r="1.8" fill="#7c7c7c"/>
<circle cx="285.30" cy="108.83" r="0.7" fill="#bdbdbd"/>
<circle cx="285.90" cy="103.40" r="1.9" fill="#1c1c8c"/>
<circle cx="285.30" cy="102.80" r="0.7" fill="#5a5ac0"/>
<circle cx="290.60" cy="104.30" r="1.9" fill="#1c1c8c"/>
<circle cx="290.00" cy="103.70" r="0.7" fill="#5a5ac0"/>
<circle cx="288.00" cy="102.00" r="1.9" fill="#1c1c8c"/>
<circle cx="287.40" cy="101.40" r="0.7" fill="#5a5ac0"/>
<text x="64.6" y="145.6" font-size="5.2" font-weight="bold" fill="#222" text-anchor="middle" font-family="Liberation Sans, sans-serif">NH<tspan font-size="3.12" dy="1">2</tspan><tspan dy="-1">-SiO</tspan><tspan font-size="3.12" dy="1">2</tspan></text>
<text x="136.2" y="145.6" font-size="5.2" font-weight="bold" fill="#222" text-anchor="middle" font-family="Liberation Sans, sans-serif">SH-SiO<tspan font-size="3.12" dy="1">2</tspan></text>
<text x="207.7" y="145.6" font-size="5.2" font-weight="bold" fill="#222" text-anchor="middle" font-family="Liberation Sans, sans-serif">CH<tspan font-size="3.12" dy="1">3</tspan><tspan dy="-1">-SiO</tspan><tspan font-size="3.12" dy="1">2</tspan></text>
<text x="279" y="145.6" font-size="5.2" font-weight="bold" fill="#222" text-anchor="middle" font-family="Liberation Sans, sans-serif">CF<tspan font-size="3.12" dy="1">3</tspan><tspan dy="-1">-SiO</tspan><tspan font-size="3.12" dy="1">2</tspan></text>
<circle cx="104" cy="153.4" r="4" fill="url(#ballC)"/>
<text x="111" y="155.2" font-size="4.8" font-weight="bold" fill="#333" text-anchor="start" font-family="Liberation Sans, sans-serif" >C</text>
<circle cx="123" cy="153.4" r="2.2" fill="url(#ballH)"/>
<text x="126.3" y="155.2" font-size="4.8" font-weight="bold" fill="#333" text-anchor="start" font-family="Liberation Sans, sans-serif" >H</text>
<circle cx="137" cy="153.4" r="2.5" fill="url(#ballSi)"/>
<text x="141" y="155.2" font-size="4.8" font-weight="bold" fill="#333" text-anchor="start" font-family="Liberation Sans, sans-serif" >Si</text>
<circle cx="153.7" cy="153.4" r="2.8" fill="url(#ballO)"/>
<text x="157.9" y="155.2" font-size="4.8" font-weight="bold" fill="#333" text-anchor="start" font-family="Liberation Sans, sans-serif" >O</text>
<circle cx="169" cy="153.4" r="3.5" fill="url(#ballN)"/>
<text x="173.8" y="155.2" font-size="4.8" font-weight="bold" fill="#333" text-anchor="start" font-family="Liberation Sans, sans-serif" >N</text>
<circle cx="184.4" cy="153.4" r="3.2" fill="url(#ballS)"/>
<text x="189.7" y="155.2" font-size="4.8" font-weight="bold" fill="#333" text-anchor="start" font-family="Liberation Sans, sans-serif" >S</text>
<circle cx="201.2" cy="153.4" r="3.3" fill="url(#ballF)"/>
<text x="206.8" y="155.2" font-size="4.8" font-weight="bold" fill="#333" text-anchor="start" font-family="Liberation Sans, sans-serif" >F</text>
<rect x="338.8" y="41.2" width="144.0" height="100.8" fill="none" stroke="#222" stroke-width="1.5"/>
<line x1="338.8" y1="141.9" x2="340.2" y2="141.9" stroke="#333" stroke-width="0.9"/>
<line x1="482.8" y1="141.9" x2="481.40000000000003" y2="141.9" stroke="#333" stroke-width="0.9"/>
<line x1="338.8" y1="131.8" x2="341.1" y2="131.8" stroke="#333" stroke-width="0.9"/>
<line x1="482.8" y1="131.8" x2="480.5" y2="131.8" stroke="#333" stroke-width="0.9"/>
<text x="336.2" y="134.4" font-size="7.4" font-weight="bold" fill="#222" text-anchor="end" font-family="Liberation Sans, sans-serif" >-2</text>
<line x1="338.8" y1="121.7" x2="340.2" y2="121.7" stroke="#333" stroke-width="0.9"/>
<line x1="482.8" y1="121.7" x2="481.40000000000003" y2="121.7" stroke="#333" stroke-width="0.9"/>
<line x1="338.8" y1="111.60000000000001" x2="341.1" y2="111.60000000000001" stroke="#333" stroke-width="0.9"/>
<line x1="482.8" y1="111.60000000000001" x2="480.5" y2="111.60000000000001" stroke="#333" stroke-width="0.9"/>
<text x="336.2" y="114.2" font-size="7.4" font-weight="bold" fill="#222" text-anchor="end" font-family="Liberation Sans, sans-serif" >-1</text>
<line x1="338.8" y1="101.5" x2="340.2" y2="101.5" stroke="#333" stroke-width="0.9"/>
<line x1="482.8" y1="101.5" x2="481.40000000000003" y2="101.5" stroke="#333" stroke-width="0.9"/>
<line x1="338.8" y1="91.4" x2="341.1" y2="91.4" stroke="#333" stroke-width="0.9"/>
<line x1="482.8" y1="91.4" x2="480.5" y2="91.4" stroke="#333" stroke-width="0.9"/>
<text x="336.2" y="94.0" font-size="7.4" font-weight="bold" fill="#222" text-anchor="end" font-family="Liberation Sans, sans-serif" >0</text>
<line x1="338.8" y1="81.30000000000001" x2="340.2" y2="81.30000000000001" stroke="#333" stroke-width="0.9"/>
<line x1="482.8" y1="81.30000000000001" x2="481.40000000000003" y2="81.30000000000001" stroke="#333" stroke-width="0.9"/>
<line x1="338.8" y1="71.2" x2="341.1" y2="71.2" stroke="#333" stroke-width="0.9"/>
<line x1="482.8" y1="71.2" x2="480.5" y2="71.2" stroke="#333" stroke-width="0.9"/>
<text x="336.2" y="73.8" font-size="7.4" font-weight="bold" fill="#222" text-anchor="end" font-family="Liberation Sans, sans-serif" >1</text>
<line x1="338.8" y1="61.10000000000001" x2="340.2" y2="61.10000000000001" stroke="#333" stroke-width="0.9"/>
<line x1="482.8" y1="61.10000000000001" x2="481.40000000000003" y2="61.10000000000001" stroke="#333" stroke-width="0.9"/>
<line x1="338.8" y1="51.00000000000001" x2="341.1" y2="51.00000000000001" stroke="#333" stroke-width="0.9"/>
<line x1="482.8" y1="51.00000000000001" x2="480.5" y2="51.00000000000001" stroke="#333" stroke-width="0.9"/>
<text x="336.2" y="53.60000000000001" font-size="7.4" font-weight="bold" fill="#222" text-anchor="end" font-family="Liberation Sans, sans-serif" >2</text>
<line x1="338.8" y1="40.900000000000006" x2="340.2" y2="40.900000000000006" stroke="#333" stroke-width="0.9"/>
<line x1="482.8" y1="40.900000000000006" x2="481.40000000000003" y2="40.900000000000006" stroke="#333" stroke-width="0.9"/>
<line x1="356.8" y1="142" x2="356.8" y2="139.7" stroke="#333" stroke-width="0.9"/>
<line x1="356.8" y1="41.2" x2="356.8" y2="43.5" stroke="#333" stroke-width="0.9"/>
<line x1="393" y1="142" x2="393" y2="139.7" stroke="#333" stroke-width="0.9"/>
<line x1="393" y1="41.2" x2="393" y2="43.5" stroke="#333" stroke-width="0.9"/>
<line x1="429.1" y1="142" x2="429.1" y2="139.7" stroke="#333" stroke-width="0.9"/>
<line x1="429.1" y1="41.2" x2="429.1" y2="43.5" stroke="#333" stroke-width="0.9"/>
<line x1="465.8" y1="142" x2="465.8" y2="139.7" stroke="#333" stroke-width="0.9"/>
<line x1="465.8" y1="41.2" x2="465.8" y2="43.5" stroke="#333" stroke-width="0.9"/>
<text transform="translate(321.2,90.3) rotate(-90)" font-size="7" font-weight="bold" fill="#222" text-anchor="middle" font-family="Liberation Sans, sans-serif">CPD (V)</text>
<text x="337.8" y="154.4" font-size="6.6" font-weight="bold" fill="#222" font-family="Liberation Sans, sans-serif" textLength="29.8" lengthAdjust="spacingAndGlyphs">NH<tspan font-size="4.752" dy="0.7">2</tspan><tspan dy="-0.7">-SiO</tspan><tspan font-size="4.752" dy="0.7">2</tspan></text>
<text x="378.6" y="154.4" font-size="6.6" font-weight="bold" fill="#222" font-family="Liberation Sans, sans-serif" textLength="27.4" lengthAdjust="spacingAndGlyphs">SH-SiO<tspan font-size="4.752" dy="0.7">2</tspan></text>
<text x="415" y="154.4" font-size="6.6" font-weight="bold" fill="#222" font-family="Liberation Sans, sans-serif" textLength="29.4" lengthAdjust="spacingAndGlyphs">CH<tspan font-size="4.752" dy="0.7">3</tspan><tspan dy="-0.7">-SiO</tspan><tspan font-size="4.752" dy="0.7">2</tspan></text>
<text x="450.8" y="154.4" font-size="6.6" font-weight="bold" fill="#222" font-family="Liberation Sans, sans-serif" textLength="29.2" lengthAdjust="spacingAndGlyphs">CF<tspan font-size="4.752" dy="0.7">3</tspan><tspan dy="-0.7">-SiO</tspan><tspan font-size="4.752" dy="0.7">2</tspan></text>
<rect x="341.8" y="57" width="30" height="28" fill="#f2a6aa"/>
<rect x="341.8" y="56.1" width="30" height="3.4" fill="#f41e28"/>
<rect x="341.8" y="84" width="30" height="2.4" fill="#f41e28"/>
<polygon points="343.80,55.10 346.70,58.00 343.80,60.90 340.90,58.00" fill="#f41e28" stroke="#f41e28" stroke-width="0.7" />
<polygon points="345.70,57.50 348.60,60.40 345.70,63.30 342.80,60.40" fill="#f41e28" stroke="#f41e28" stroke-width="0.7" />
<polygon points="349.10,56.20 352.00,59.10 349.10,62.00 346.20,59.10" fill="#f41e28" stroke="#f41e28" stroke-width="0.7" />
<polygon points="353.40,52.80 356.30,55.70 353.40,58.60 350.50,55.70" fill="#f41e28" stroke="#f41e28" stroke-width="0.7" />
<polygon points="356.00,55.10 358.90,58.00 356.00,60.90 353.10,58.00" fill="#f41e28" stroke="#f41e28" stroke-width="0.7" />
<polygon points="360.40,54.10 363.30,57.00 360.40,59.90 357.50,57.00" fill="#f41e28" stroke="#f41e28" stroke-width="0.7" />
<polygon points="363.50,55.60 366.40,58.50 363.50,61.40 360.60,58.50" fill="#f41e28" stroke="#f41e28" stroke-width="0.7" />
<polygon points="360.40,59.40 363.30,62.30 360.40,65.20 357.50,62.30" fill="#f41e28" stroke="#f41e28" stroke-width="0.7" />
<polygon points="367.50,59.40 370.40,62.30 367.50,65.20 364.60,62.30" fill="#f41e28" stroke="#f41e28" stroke-width="0.7" />
<polygon points="369.80,55.10 372.70,58.00 369.80,60.90 366.90,58.00" fill="#f41e28" stroke="#f41e28" stroke-width="0.7" />
<circle cx="343.5" cy="85.2" r="1.9" fill="#f41e28" stroke="#f41e28" stroke-width="0.7"/>
<circle cx="346.8" cy="85.2" r="1.9" fill="#f41e28" stroke="#f41e28" stroke-width="0.7"/>
<circle cx="350" cy="85.2" r="1.9" fill="#f41e28" stroke="#f41e28" stroke-width="0.7"/>
<circle cx="353.3" cy="85.2" r="1.9" fill="#f41e28" stroke="#f41e28" stroke-width="0.7"/>
<circle cx="356.6" cy="85.2" r="1.9" fill="#f41e28" stroke="#f41e28" stroke-width="0.7"/>
<circle cx="359.9" cy="85.2" r="1.9" fill="#f41e28" stroke="#f41e28" stroke-width="0.7"/>
<circle cx="363.2" cy="85.2" r="1.9" fill="#f41e28" stroke="#f41e28" stroke-width="0.7"/>
<circle cx="366.5" cy="85.2" r="1.9" fill="#f41e28" stroke="#f41e28" stroke-width="0.7"/>
<circle cx="369.8" cy="85.2" r="1.9" fill="#f41e28" stroke="#f41e28" stroke-width="0.7"/>
<circle cx="353" cy="89.6" r="1.9" fill="#fff" stroke="#f41e28" stroke-width="0.7"/>
<circle cx="356.6" cy="89.6" r="1.9" fill="#fff" stroke="#f41e28" stroke-width="0.7"/>
<rect x="378" y="81.6" width="30.5" height="14.7" fill="#ff8412"/>
<rect x="378.5" y="86.6" width="29.5" height="4.6" fill="#eaa0a8"/>
<rect x="378" y="81.6" width="30.5" height="14.7" fill="url(#hatchW)" opacity="0.8"/>
<rect x="385.5" y="75.89999999999999" width="3.4" height="3.4" fill="#ff8412" stroke="#ff8412" stroke-width="0.7"/>
<rect x="397.1" y="77.1" width="3.4" height="3.4" fill="#ff8412" stroke="#ff8412" stroke-width="0.7"/>
<rect x="391.1" y="79.5" width="3.4" height="3.4" fill="#ff8412" stroke="#ff8412" stroke-width="0.7"/>
<rect x="403.40000000000003" y="80.3" width="3.4" height="3.4" fill="#ff8412" stroke="#ff8412" stroke-width="0.7"/>
<rect x="379.3" y="81.8" width="3.4" height="3.4" fill="#ff8412" stroke="#ff8412" stroke-width="0.7"/>
<rect x="382.8" y="82.3" width="3.4" height="3.4" fill="#ff8412" stroke="#ff8412" stroke-width="0.7"/>
<rect x="379.2" y="93.3" width="2.6" height="2.6" fill="#fff" stroke="#ff8412" stroke-width="0.7"/>
<rect x="383.7" y="93.5" width="2.6" height="2.6" fill="#fff" stroke="#ff8412" stroke-width="0.7"/>
<rect x="388.2" y="93.3" width="2.6" height="2.6" fill="#fff" stroke="#ff8412" stroke-width="0.7"/>
<rect x="396.7" y="93.5" width="2.6" height="2.6" fill="#fff" stroke="#ff8412" stroke-width="0.7"/>
<rect x="402.0" y="93.5" width="2.6" height="2.6" fill="#fff" stroke="#ff8412" stroke-width="0.7"/>
<rect x="391.59999999999997" y="96.30000000000001" width="3.2" height="3.2" fill="#fff" stroke="#ff8412" stroke-width="0.7"/>
<rect x="414.2" y="97" width="30.2" height="12" fill="#149a48"/>
<rect x="414.2" y="97" width="30.2" height="12" fill="url(#hatchW)"/>
<rect x="416" y="102.4" width="27" height="1.2" fill="#f0a8a0" opacity="0.9"/>
<rect x="416" y="106.4" width="19" height="1.2" fill="#fff"/>
<rect x="437" y="106.4" width="6" height="1.2" fill="#fff"/>
<polygon points="417.50,93.90 420.55,98.97 414.45,98.97" fill="#149a48" stroke="#149a48" stroke-width="0.7" />
<polygon points="423.50,93.90 426.55,98.97 420.45,98.97" fill="#149a48" stroke="#149a48" stroke-width="0.7" />
<polygon points="429.20,93.90 432.25,98.97 426.15,98.97" fill="#149a48" stroke="#149a48" stroke-width="0.7" />
<polygon points="440.70,93.90 443.75,98.97 437.65,98.97" fill="#149a48" stroke="#149a48" stroke-width="0.7" />
<polygon points="426.90,110.60 429.80,115.30 424.00,115.30" fill="#fff" stroke="#149a48" stroke-width="1.3" />
<polygon points="432.20,110.60 435.10,115.30 429.30,115.30" fill="#fff" stroke="#149a48" stroke-width="1.3" />
<rect x="450.4" y="117.6" width="30" height="10.8" fill="#2456c2"/>
<rect x="450.4" y="117.6" width="30" height="10.8" fill="url(#hatchW)"/>
<rect x="452" y="119.2" width="27" height="1.1" fill="#fff"/>
<circle cx="465.4" cy="116.8" r="1.8" fill="#2456c2" stroke="#2456c2" stroke-width="0.7"/>
<circle cx="472.6" cy="118.3" r="1.8" fill="#2456c2" stroke="#2456c2" stroke-width="0.7"/>
<polygon points="465.40,109.80 467.87,111.60 466.93,114.50 463.87,114.50 462.93,111.60" fill="#fff" stroke="#2456c2" stroke-width="1.1" />
<polygon points="472.60,111.70 475.07,113.50 474.13,116.40 471.07,116.40 470.13,113.50" fill="#fff" stroke="#2456c2" stroke-width="1.1" />
<line x1="457.9" y1="128" x2="457.9" y2="131" stroke="#2456c2" stroke-width="1"/>
<line x1="472.6" y1="128" x2="472.6" y2="132" stroke="#2456c2" stroke-width="1"/>
<polygon points="457.90,129.70 460.47,131.57 459.49,134.58 456.31,134.58 455.33,131.57" fill="#2456c2" stroke="#2456c2" stroke-width="0.7" />
<polygon points="472.60,131.10 475.17,132.97 474.19,135.98 471.01,135.98 470.03,132.97" fill="#2456c2" stroke="#2456c2" stroke-width="0.7" />
<rect x="378.5" y="175.7" width="99.0" height="90.0" fill="none" stroke="#222" stroke-width="1.5"/>
<line x1="378.5" y1="256.75" x2="380.8" y2="256.75" stroke="#333" stroke-width="0.9"/>
<line x1="477.5" y1="256.75" x2="475.2" y2="256.75" stroke="#333" stroke-width="0.9"/>
<text x="376.9" y="259.25" font-size="7" font-weight="bold" fill="#222" text-anchor="end" font-family="Liberation Sans, sans-serif" >-0.5</text>
<line x1="378.5" y1="247.775" x2="379.9" y2="247.775" stroke="#333" stroke-width="0.9"/>
<line x1="477.5" y1="247.775" x2="476.1" y2="247.775" stroke="#333" stroke-width="0.9"/>
<line x1="378.5" y1="238.8" x2="380.8" y2="238.8" stroke="#333" stroke-width="0.9"/>
<line x1="477.5" y1="238.8" x2="475.2" y2="238.8" stroke="#333" stroke-width="0.9"/>
<text x="376.9" y="241.3" font-size="7" font-weight="bold" fill="#222" text-anchor="end" font-family="Liberation Sans, sans-serif" >0</text>
<line x1="378.5" y1="229.82500000000002" x2="379.9" y2="229.82500000000002" stroke="#333" stroke-width="0.9"/>
<line x1="477.5" y1="229.82500000000002" x2="476.1" y2="229.82500000000002" stroke="#333" stroke-width="0.9"/>
<line x1="378.5" y1="220.85000000000002" x2="380.8" y2="220.85000000000002" stroke="#333" stroke-width="0.9"/>
<line x1="477.5" y1="220.85000000000002" x2="475.2" y2="220.85000000000002" stroke="#333" stroke-width="0.9"/>
<text x="376.9" y="223.35000000000002" font-size="7" font-weight="bold" fill="#222" text-anchor="end" font-family="Liberation Sans, sans-serif" >0.5</text>
<line x1="378.5" y1="211.875" x2="379.9" y2="211.875" stroke="#333" stroke-width="0.9"/>
<line x1="477.5" y1="211.875" x2="476.1" y2="211.875" stroke="#333" stroke-width="0.9"/>
<line x1="378.5" y1="202.9" x2="380.8" y2="202.9" stroke="#333" stroke-width="0.9"/>
<line x1="477.5" y1="202.9" x2="475.2" y2="202.9" stroke="#333" stroke-width="0.9"/>
<text x="376.9" y="205.4" font-size="7" font-weight="bold" fill="#222" text-anchor="end" font-family="Liberation Sans, sans-serif" >1</text>
<line x1="378.5" y1="193.925" x2="379.9" y2="193.925" stroke="#333" stroke-width="0.9"/>
<line x1="477.5" y1="193.925" x2="476.1" y2="193.925" stroke="#333" stroke-width="0.9"/>
<line x1="378.5" y1="184.95000000000002" x2="380.8" y2="184.95000000000002" stroke="#333" stroke-width="0.9"/>
<line x1="477.5" y1="184.95000000000002" x2="475.2" y2="184.95000000000002" stroke="#333" stroke-width="0.9"/>
<text x="376.9" y="187.45000000000002" font-size="7" font-weight="bold" fill="#222" text-anchor="end" font-family="Liberation Sans, sans-serif" >1.5</text>
<line x1="476.5" y1="265.7" x2="476.5" y2="264.3" stroke="#333" stroke-width="0.9"/>
<line x1="476.5" y1="175.7" x2="476.5" y2="177.1" stroke="#333" stroke-width="0.9"/>
<line x1="465.6" y1="265.7" x2="465.6" y2="263.4" stroke="#333" stroke-width="0.9"/>
<line x1="465.6" y1="175.7" x2="465.6" y2="178.0" stroke="#333" stroke-width="0.9"/>
<text x="465.6" y="273.6" font-size="7" font-weight="bold" fill="#222" text-anchor="middle" font-family="Liberation Sans, sans-serif" >-1.5</text>
<line x1="454.7" y1="265.7" x2="454.7" y2="264.3" stroke="#333" stroke-width="0.9"/>
<line x1="454.7" y1="175.7" x2="454.7" y2="177.1" stroke="#333" stroke-width="0.9"/>
<line x1="443.8" y1="265.7" x2="443.8" y2="263.4" stroke="#333" stroke-width="0.9"/>
<line x1="443.8" y1="175.7" x2="443.8" y2="178.0" stroke="#333" stroke-width="0.9"/>
<text x="443.8" y="273.6" font-size="7" font-weight="bold" fill="#222" text-anchor="middle" font-family="Liberation Sans, sans-serif" >-1</text>
<line x1="432.9" y1="265.7" x2="432.9" y2="264.3" stroke="#333" stroke-width="0.9"/>
<line x1="432.9" y1="175.7" x2="432.9" y2="177.1" stroke="#333" stroke-width="0.9"/>
<line x1="422.0" y1="265.7" x2="422.0" y2="263.4" stroke="#333" stroke-width="0.9"/>
<line x1="422.0" y1="175.7" x2="422.0" y2="178.0" stroke="#333" stroke-width="0.9"/>
<text x="422.0" y="273.6" font-size="7" font-weight="bold" fill="#222" text-anchor="middle" font-family="Liberation Sans, sans-serif" >-0.5</text>
<line x1="411.09999999999997" y1="265.7" x2="411.09999999999997" y2="264.3" stroke="#333" stroke-width="0.9"/>
<line x1="411.09999999999997" y1="175.7" x2="411.09999999999997" y2="177.1" stroke="#333" stroke-width="0.9"/>
<line x1="400.2" y1="265.7" x2="400.2" y2="263.4" stroke="#333" stroke-width="0.9"/>
<line x1="400.2" y1="175.7" x2="400.2" y2="178.0" stroke="#333" stroke-width="0.9"/>
<text x="400.2" y="273.6" font-size="7" font-weight="bold" fill="#222" text-anchor="middle" font-family="Liberation Sans, sans-serif" >0</text>
<line x1="389.3" y1="265.7" x2="389.3" y2="264.3" stroke="#333" stroke-width="0.9"/>
<line x1="389.3" y1="175.7" x2="389.3" y2="177.1" stroke="#333" stroke-width="0.9"/>
<line x1="378.4" y1="265.7" x2="378.4" y2="263.4" stroke="#333" stroke-width="0.9"/>
<line x1="378.4" y1="175.7" x2="378.4" y2="178.0" stroke="#333" stroke-width="0.9"/>
<text x="378.4" y="273.6" font-size="7" font-weight="bold" fill="#222" text-anchor="middle" font-family="Liberation Sans, sans-serif" >0.5</text>
<text x="428" y="283.3" font-size="6.6" font-weight="bold" fill="#222" text-anchor="middle" font-family="Liberation Sans, sans-serif" >CPD Before Contact (V)</text>
<text transform="translate(352.6,219) rotate(-90)" font-size="7" font-weight="bold" fill="#222" text-anchor="middle" font-family="Liberation Sans, sans-serif">Triboelectric</text>
<text transform="translate(360.1,219) rotate(-90)" font-size="6.7" font-weight="bold" fill="#222" text-anchor="middle" font-family="Liberation Sans, sans-serif">Potential (V)</text>
<line x1="384.94" y1="182.322" x2="384.94" y2="193.322" stroke="#222" stroke-width="0.8"/>
<line x1="383.64" y1="182.322" x2="386.24" y2="182.322" stroke="#222" stroke-width="0.8"/>
<line x1="383.64" y1="193.322" x2="386.24" y2="193.322" stroke="#222" stroke-width="0.8"/>
<polygon points="384.94,184.62 388.14,187.82 384.94,191.02 381.74,187.82" fill="#f0202a" stroke="#f0202a" stroke-width="0.7" />
<line x1="405.432" y1="219.00400000000002" x2="405.432" y2="227.00400000000002" stroke="#222" stroke-width="0.8"/>
<rect x="402.632" y="220.204" width="5.6" height="5.6" fill="#ff8a14" stroke="#e07a10" stroke-width="0.7"/>
<rect x="404.432" y="218.704" width="2" height="1.2" fill="#222"/><rect x="404.432" y="226.104" width="2" height="1.2" fill="#222"/>
<polygon points="435.95,222.12 439.52,228.07 432.38,228.07" fill="#16924a" stroke="#0e7a3a" stroke-width="0.7" />
<circle cx="435.952" cy="225.51700000000002" r="0.8" fill="#222"/>
<polygon points="462.11,242.06 465.16,244.27 463.99,247.85 460.23,247.85 459.07,244.27" fill="#2050b8" stroke="#1a3a90" stroke-width="0.7" />
<circle cx="462.11199999999997" cy="245.262" r="0.8" fill="#222"/>
<text x="380.2" y="200.3" font-size="6.6" font-weight="bold" fill="#222" font-family="Liberation Sans, sans-serif" textLength="28" lengthAdjust="spacingAndGlyphs">NH<tspan font-size="4.752" dy="0.7">2</tspan><tspan dy="-0.7">-SiO</tspan><tspan font-size="4.752" dy="0.7">2</tspan></text>
<text x="391.6" y="237.2" font-size="6.6" font-weight="bold" fill="#222" font-family="Liberation Sans, sans-serif">SH-SiO<tspan font-size="4.752" dy="0.7">2</tspan></text>
<text x="423" y="236.5" font-size="6.6" font-weight="bold" fill="#222" font-family="Liberation Sans, sans-serif">CH<tspan font-size="4.752" dy="0.7">3</tspan><tspan dy="-0.7">-SiO</tspan><tspan font-size="4.752" dy="0.7">2</tspan></text>
<text x="446.5" y="256.5" font-size="6.6" font-weight="bold" fill="#222" font-family="Liberation Sans, sans-serif">CF<tspan font-size="4.752" dy="0.7">3</tspan><tspan dy="-0.7">-SiO</tspan><tspan font-size="4.752" dy="0.7">2</tspan></text>
<polygon points="18.00,201.10 42.70,180.40 47.50,183.60 23.60,203.50" fill="#22d2da" stroke="none" stroke-width="0" />
<polygon points="47.50,183.60 80.30,202.70 53.10,213.90 23.60,203.50" fill="#9c9db2" stroke="none" stroke-width="0" />
<line x1="47.5" y1="183.6" x2="80.3" y2="202.7" stroke="#3aa8b8" stroke-width="0.7"/>
<polygon points="94.40,201.10 119.10,180.40 123.90,183.60 100.00,203.50" fill="#22d2da" stroke="none" stroke-width="0" />
<polygon points="123.90,183.60 156.70,202.70 129.50,213.90 100.00,203.50" fill="#9c9db2" stroke="none" stroke-width="0" />
<line x1="123.9" y1="183.6" x2="156.7" y2="202.7" stroke="#3aa8b8" stroke-width="0.7"/>
<polygon points="172.50,201.10 197.20,180.40 202.00,183.60 178.10,203.50" fill="#22d2da" stroke="none" stroke-width="0" />
<polygon points="202.00,183.60 234.80,202.70 207.60,213.90 178.10,203.50" fill="#9c9db2" stroke="none" stroke-width="0" />
<line x1="202.0" y1="183.6" x2="234.8" y2="202.7" stroke="#3aa8b8" stroke-width="0.7"/>
<polygon points="249.50,200.40 274.20,178.70 277.90,181.70 254.70,202.70" fill="#22d2da" stroke="none" stroke-width="0" />
<polygon points="254.70,202.70 277.90,181.70 280.90,184.00 259.20,204.20" fill="#a4a2b4" stroke="none" stroke-width="0" />
<polygon points="259.20,204.20 280.90,184.00 310.90,202.00 291.40,211.70" fill="#22b865" stroke="none" stroke-width="0" />
<polygon points="17.80,243.90 54.80,264.80 55.20,266.20 17.80,245.00" fill="#3ac8d0" stroke="none" stroke-width="0" />
<polygon points="38.80,228.90 73.70,240.40 54.80,264.80 17.80,243.90" fill="#9c9db2" stroke="none" stroke-width="0" />
<polygon points="73.70,240.40 80.00,242.50 57.60,269.40 54.80,264.80" fill="#22d2da" stroke="none" stroke-width="0" />
<polygon points="94.20,241.60 122.80,261.10 123.00,262.40 94.20,242.80" fill="#4aa0c0" stroke="none" stroke-width="0" />
<polygon points="116.50,227.50 143.80,237.40 122.80,261.10 94.20,241.60" fill="#22b865" stroke="none" stroke-width="0" />
<polygon points="143.80,237.40 148.70,239.50 127.70,263.90 122.80,261.10" fill="#a2a2aa" stroke="none" stroke-width="0" />
<polygon points="148.70,239.50 154.60,241.60 131.90,268.10 127.70,263.90" fill="#22d2da" stroke="none" stroke-width="0" />
<polygon points="172.40,241.60 201.00,261.10 201.20,262.40 172.40,242.80" fill="#4aa0c0" stroke="none" stroke-width="0" />
<polygon points="194.70,227.50 222.00,237.40 201.00,261.10 172.40,241.60" fill="#f7c393" stroke="none" stroke-width="0" />
<polygon points="222.00,237.40 226.90,239.50 205.90,263.90 201.00,261.10" fill="#a2a2aa" stroke="none" stroke-width="0" />
<polygon points="226.90,239.50 232.80,241.60 210.10,268.10 205.90,263.90" fill="#22d2da" stroke="none" stroke-width="0" />
<polygon points="249.40,241.60 278.00,261.10 278.20,262.40 249.40,242.80" fill="#4aa0c0" stroke="none" stroke-width="0" />
<polygon points="271.70,227.50 299.00,237.40 278.00,261.10 249.40,241.60" fill="#f7c393" stroke="none" stroke-width="0" />
<polygon points="299.00,237.40 303.90,239.50 282.90,263.90 278.00,261.10" fill="#a2a2aa" stroke="none" stroke-width="0" />
<polygon points="303.90,239.50 309.80,241.60 287.10,268.10 282.90,263.90" fill="#22d2da" stroke="none" stroke-width="0" />
<polygon points="18.10,214.50 21.50,214.50 21.50,225.50 23.40,225.50 19.80,230.00 16.20,225.50 18.10,225.50" fill="url(#dArrowDown)" stroke="none" stroke-width="0" />
<polygon points="93.30,214.50 96.70,214.50 96.70,225.50 98.60,225.50 95.00,230.00 91.40,225.50 93.30,225.50" fill="url(#dArrowDown)" stroke="none" stroke-width="0" />
<polygon points="172.50,214.50 175.90,214.50 175.90,225.50 177.80,225.50 174.20,230.00 170.60,225.50 172.50,225.50" fill="url(#dArrowDown)" stroke="none" stroke-width="0" />
<polygon points="250.40,214.50 253.80,214.50 253.80,225.50 255.70,225.50 252.10,230.00 248.50,225.50 250.40,225.50" fill="url(#dArrowDown)" stroke="none" stroke-width="0" />
<polygon points="77.00,212.80 80.60,217.30 78.70,217.30 78.70,227.00 75.30,227.00 75.30,217.30 73.40,217.30" fill="url(#dArrowUp)" stroke="none" stroke-width="0" />
<polygon points="152.90,212.80 156.50,217.30 154.60,217.30 154.60,227.00 151.20,227.00 151.20,217.30 149.30,217.30" fill="url(#dArrowUp)" stroke="none" stroke-width="0" />
<polygon points="232.00,212.80 235.60,217.30 233.70,217.30 233.70,227.00 230.30,227.00 230.30,217.30 228.40,217.30" fill="url(#dArrowUp)" stroke="none" stroke-width="0" />
<polygon points="310.10,212.80 313.70,217.30 311.80,217.30 311.80,227.00 308.40,227.00 308.40,217.30 306.50,217.30" fill="url(#dArrowUp)" stroke="none" stroke-width="0" />
<circle cx="42.9" cy="181.6" r="1" fill="#111"/><line x1="42.9" y1="181.6" x2="53" y2="182" stroke="#111" stroke-width="0.7"/>
<circle cx="51.3" cy="188.4" r="1" fill="#111"/><line x1="51.3" y1="188.4" x2="62" y2="189.2" stroke="#111" stroke-width="0.7"/>
<text x="53.6" y="184.6" font-size="7" font-weight="bold" fill="#111" text-anchor="start" font-family="Liberation Sans, sans-serif" >ITO</text>
<text x="62.5" y="191.8" font-size="7" font-weight="bold" fill="#111" text-anchor="start" font-family="Liberation Sans, sans-serif" >PET</text>
<text x="29" y="220.2" font-size="6.6" font-weight="bold" fill="#a87cc8" text-anchor="start" font-family="Liberation Sans, sans-serif"  textLength="39.6" lengthAdjust="spacingAndGlyphs">Contact-mode</text>
<text x="29" y="226.2" font-size="6.6" font-weight="bold" fill="#a87cc8" text-anchor="start" font-family="Liberation Sans, sans-serif"  textLength="24.6" lengthAdjust="spacingAndGlyphs">TEG pair</text>
<path d="M107,227.5 L108.30,229.50 L105.70,231.50 L108.30,233.50 L105.70,235.50 L108.30,237.50 L107.00,239.50" fill="none" stroke="#222" stroke-width="0.6"/>
<path d="M126.5,227.5 L127.80,229.50 L125.20,231.50 L127.80,233.50 L125.20,235.50 L127.80,237.50 L126.50,239.50" fill="none" stroke="#222" stroke-width="0.6"/>
<ellipse cx="108.5" cy="242.89999999999998" rx="5" ry="2.5" fill="#127878"/>
<ellipse cx="108.5" cy="242.2" rx="4.8" ry="2.2" fill="#24a4a8"/>
<ellipse cx="127.4" cy="242.89999999999998" rx="5" ry="2.5" fill="#127878"/>
<ellipse cx="127.4" cy="242.2" rx="4.8" ry="2.2" fill="#24a4a8"/>
<text x="114.6" y="228" font-size="6.1" font-weight="bold" fill="#222" font-family="Liberation Sans, sans-serif" text-anchor="middle">NH<tspan font-size="3.9" dy="1">3</tspan><tspan font-size="3.9" dy="-3.6" dx="0.8">+</tspan></text>
<text x="133.8" y="228" font-size="6.1" font-weight="bold" fill="#222" font-family="Liberation Sans, sans-serif" text-anchor="middle">NH<tspan font-size="3.9" dy="1">3</tspan><tspan font-size="3.9" dy="-3.6" dx="0.8">+</tspan></text>
<ellipse cx="274.5" cy="201.7" rx="5" ry="2.5" fill="#127878"/>
<ellipse cx="274.5" cy="201" rx="4.8" ry="2.2" fill="#24a4a8"/>
<ellipse cx="294.8" cy="201.7" rx="5" ry="2.5" fill="#127878"/>
<ellipse cx="294.8" cy="201" rx="4.8" ry="2.2" fill="#24a4a8"/>
<path d="M274,203.5 L275.30,205.33 L272.70,207.17 L275.30,209.00 L272.70,210.83 L275.30,212.67 L274.00,214.50" fill="none" stroke="#222" stroke-width="0.6"/>
<path d="M294,203.5 L295.30,205.33 L292.70,207.17 L295.30,209.00 L292.70,210.83 L295.30,212.67 L294.00,214.50" fill="none" stroke="#222" stroke-width="0.6"/>
<text x="271" y="219.4" font-size="6.1" font-weight="bold" fill="#222" font-family="Liberation Sans, sans-serif" text-anchor="middle">NH<tspan font-size="3.9" dy="1">3</tspan><tspan font-size="3.9" dy="-3.6" dx="0.8">+</tspan></text>
<text x="292.1" y="219.4" font-size="6.1" font-weight="bold" fill="#222" font-family="Liberation Sans, sans-serif" text-anchor="middle">NH<tspan font-size="3.9" dy="1">3</tspan><tspan font-size="3.9" dy="-3.6" dx="0.8">+</tspan></text>
<text x="184.9" y="227.6" font-size="5.1" font-weight="bold" fill="#222" font-family="Liberation Sans, sans-serif">C<tspan font-size="3.4" dy="0.9">8</tspan><tspan dy="-0.9">F</tspan><tspan font-size="3.4" dy="0.9">17</tspan><tspan dy="-0.9">H</tspan></text>
<text x="186.5" y="234.2" font-size="4.4" font-weight="bold" fill="#222" text-anchor="middle" font-family="Liberation Sans, sans-serif" >Si</text>
<line x1="186.5" y1="234.8" x2="178.8" y2="240" stroke="#333" stroke-width="0.45"/>
<ellipse cx="178.8" cy="242" rx="1.15" ry="1.45" fill="none" stroke="#333" stroke-width="0.55"/>
<line x1="178.8" y1="243.6" x2="178.8" y2="246.5" stroke="#333" stroke-width="0.45"/>
<line x1="186.5" y1="234.8" x2="186.5" y2="240" stroke="#333" stroke-width="0.45"/>
<ellipse cx="186.5" cy="242" rx="1.15" ry="1.45" fill="none" stroke="#333" stroke-width="0.55"/>
<line x1="186.5" y1="243.6" x2="186.5" y2="246.5" stroke="#333" stroke-width="0.45"/>
<line x1="186.5" y1="234.8" x2="194.1" y2="240" stroke="#333" stroke-width="0.45"/>
<ellipse cx="194.1" cy="242" rx="1.15" ry="1.45" fill="none" stroke="#333" stroke-width="0.55"/>
<line x1="194.1" y1="243.6" x2="194.1" y2="246.5" stroke="#333" stroke-width="0.45"/>
<text x="204.70000000000002" y="227.6" font-size="5.1" font-weight="bold" fill="#222" font-family="Liberation Sans, sans-serif">C<tspan font-size="3.4" dy="0.9">8</tspan><tspan dy="-0.9">F</tspan><tspan font-size="3.4" dy="0.9">17</tspan><tspan dy="-0.9">H</tspan></text>
<text x="206.3" y="234.2" font-size="4.4" font-weight="bold" fill="#222" text-anchor="middle" font-family="Liberation Sans, sans-serif" >Si</text>
<line x1="206.3" y1="234.8" x2="198.60000000000002" y2="240" stroke="#333" stroke-width="0.45"/>
<ellipse cx="198.60000000000002" cy="242" rx="1.15" ry="1.45" fill="none" stroke="#333" stroke-width="0.55"/>
<line x1="198.60000000000002" y1="243.6" x2="198.60000000000002" y2="246.5" stroke="#333" stroke-width="0.45"/>
<line x1="206.3" y1="234.8" x2="206.3" y2="240" stroke="#333" stroke-width="0.45"/>
<ellipse cx="206.3" cy="242" rx="1.15" ry="1.45" fill="none" stroke="#333" stroke-width="0.55"/>
<line x1="206.3" y1="243.6" x2="206.3" y2="246.5" stroke="#333" stroke-width="0.45"/>
<line x1="206.3" y1="234.8" x2="213.9" y2="240" stroke="#333" stroke-width="0.45"/>
<ellipse cx="213.9" cy="242" rx="1.15" ry="1.45" fill="none" stroke="#333" stroke-width="0.55"/>
<line x1="213.9" y1="243.6" x2="213.9" y2="246.5" stroke="#333" stroke-width="0.45"/>
<text x="263.09999999999997" y="227.6" font-size="5.1" font-weight="bold" fill="#222" font-family="Liberation Sans, sans-serif">C<tspan font-size="3.4" dy="0.9">8</tspan><tspan dy="-0.9">F</tspan><tspan font-size="3.4" dy="0.9">17</tspan><tspan dy="-0.9">H</tspan></text>
<text x="264.7" y="234.2" font-size="4.4" font-weight="bold" fill="#222" text-anchor="middle" font-family="Liberation Sans, sans-serif" >Si</text>
<line x1="264.7" y1="234.8" x2="257.0" y2="240" stroke="#333" stroke-width="0.45"/>
<ellipse cx="257.0" cy="242" rx="1.15" ry="1.45" fill="none" stroke="#333" stroke-width="0.55"/>
<line x1="257.0" y1="243.6" x2="257.0" y2="246.5" stroke="#333" stroke-width="0.45"/>
<line x1="264.7" y1="234.8" x2="264.7" y2="240" stroke="#333" stroke-width="0.45"/>
<ellipse cx="264.7" cy="242" rx="1.15" ry="1.45" fill="none" stroke="#333" stroke-width="0.55"/>
<line x1="264.7" y1="243.6" x2="264.7" y2="246.5" stroke="#333" stroke-width="0.45"/>
<line x1="264.7" y1="234.8" x2="272.3" y2="240" stroke="#333" stroke-width="0.45"/>
<ellipse cx="272.3" cy="242" rx="1.15" ry="1.45" fill="none" stroke="#333" stroke-width="0.55"/>
<line x1="272.3" y1="243.6" x2="272.3" y2="246.5" stroke="#333" stroke-width="0.45"/>
<text x="283.29999999999995" y="227.6" font-size="5.1" font-weight="bold" fill="#222" font-family="Liberation Sans, sans-serif">C<tspan font-size="3.4" dy="0.9">8</tspan><tspan dy="-0.9">F</tspan><tspan font-size="3.4" dy="0.9">17</tspan><tspan dy="-0.9">H</tspan></text>
<text x="284.9" y="234.2" font-size="4.4" font-weight="bold" fill="#222" text-anchor="middle" font-family="Liberation Sans, sans-serif" >Si</text>
<line x1="284.9" y1="234.8" x2="277.2" y2="240" stroke="#333" stroke-width="0.45"/>
<ellipse cx="277.2" cy="242" rx="1.15" ry="1.45" fill="none" stroke="#333" stroke-width="0.55"/>
<line x1="277.2" y1="243.6" x2="277.2" y2="246.5" stroke="#333" stroke-width="0.45"/>
<line x1="284.9" y1="234.8" x2="284.9" y2="240" stroke="#333" stroke-width="0.45"/>
<ellipse cx="284.9" cy="242" rx="1.15" ry="1.45" fill="none" stroke="#333" stroke-width="0.55"/>
<line x1="284.9" y1="243.6" x2="284.9" y2="246.5" stroke="#333" stroke-width="0.45"/>
<line x1="284.9" y1="234.8" x2="292.5" y2="240" stroke="#333" stroke-width="0.45"/>
<ellipse cx="292.5" cy="242" rx="1.15" ry="1.45" fill="none" stroke="#333" stroke-width="0.55"/>
<line x1="292.5" y1="243.6" x2="292.5" y2="246.5" stroke="#333" stroke-width="0.45"/>
<text x="28.2" y="279.3" font-size="6.6" font-weight="bold" fill="#111" text-anchor="start" font-family="Liberation Sans, sans-serif" ><tspan font-family="Liberation Serif, serif" font-weight="bold">(i)</tspan> PET : PET</text>
<text x="89.8" y="279.8" font-size="6.6" font-weight="bold" fill="#111" text-anchor="start" font-family="Liberation Sans, sans-serif" ><tspan font-family="Liberation Serif, serif" font-weight="bold">(ii)</tspan> PET : Poly-<tspan font-size="4" dy="1">L</tspan><tspan dy="-1">-lysine</tspan></text>
<text x="177.6" y="279.8" font-size="6.6" font-weight="bold" fill="#111" text-anchor="start" font-family="Liberation Sans, sans-serif" ><tspan font-family="Liberation Serif, serif" font-weight="bold">(iii)</tspan> PET : FOTS</text>
<text x="247.2" y="279.3" font-size="6.6" font-weight="bold" fill="#111" text-anchor="start" font-family="Liberation Sans, sans-serif" ><tspan font-family="Liberation Serif, serif" font-weight="bold">(iv)</tspan> Poly-<tspan font-size="4" dy="1">L</tspan><tspan dy="-1">-lysine : FOTS</tspan></text>
<rect x="296" y="307.6" width="5.600000000000023" height="74.79999999999995" fill="#b4b4b4" stroke="#7a7a7a" stroke-width="0.8"/>
<line x1="93.7" y1="357.4" x2="149.10399999999998" y2="357.4" stroke="#ff1aff" stroke-width="1.5"/>
<line x1="149.10399999999998" y1="357.4" x2="197.44" y2="357.4" stroke="#139a3c" stroke-width="1.5"/>
<line x1="197.44" y1="357.4" x2="251.704" y2="357.4" stroke="#1a1ae6" stroke-width="1.5"/>
<line x1="251.704" y1="357.4" x2="306.8" y2="357.4" stroke="#ff1a1a" stroke-width="1.5"/>
<line x1="151.6" y1="357.4" x2="151.6" y2="343.6" stroke="#139a3c" stroke-width="1.45"/>
<line x1="155.8" y1="357.4" x2="155.8" y2="344.4" stroke="#139a3c" stroke-width="1.45"/>
<line x1="160.2" y1="357.4" x2="160.2" y2="343.2" stroke="#139a3c" stroke-width="1.45"/>
<line x1="164.2" y1="357.4" x2="164.2" y2="343.9" stroke="#139a3c" stroke-width="1.45"/>
<line x1="168.7" y1="357.4" x2="168.7" y2="344.5" stroke="#139a3c" stroke-width="1.45"/>
<line x1="173.1" y1="357.4" x2="173.1" y2="344.8" stroke="#139a3c" stroke-width="1.45"/>
<line x1="177.6" y1="357.4" x2="177.6" y2="343" stroke="#139a3c" stroke-width="1.45"/>
<line x1="181.9" y1="357.4" x2="181.9" y2="344.2" stroke="#139a3c" stroke-width="1.45"/>
<line x1="186.1" y1="357.4" x2="186.1" y2="344.4" stroke="#139a3c" stroke-width="1.45"/>
<line x1="190.5" y1="357.4" x2="190.5" y2="345.1" stroke="#139a3c" stroke-width="1.45"/>
<line x1="153.5" y1="357.4" x2="153.5" y2="364" stroke="#139a3c" stroke-width="1.45"/>
<line x1="157.70000000000002" y1="357.4" x2="157.70000000000002" y2="364" stroke="#139a3c" stroke-width="1.45"/>
<line x1="162.1" y1="357.4" x2="162.1" y2="364" stroke="#139a3c" stroke-width="1.45"/>
<line x1="166.1" y1="357.4" x2="166.1" y2="364" stroke="#139a3c" stroke-width="1.45"/>
<line x1="170.6" y1="357.4" x2="170.6" y2="364" stroke="#139a3c" stroke-width="1.45"/>
<line x1="175.0" y1="357.4" x2="175.0" y2="364" stroke="#139a3c" stroke-width="1.45"/>
<line x1="179.5" y1="357.4" x2="179.5" y2="364" stroke="#139a3c" stroke-width="1.45"/>
<line x1="183.8" y1="357.4" x2="183.8" y2="364" stroke="#139a3c" stroke-width="1.45"/>
<line x1="188.0" y1="357.4" x2="188.0" y2="364" stroke="#139a3c" stroke-width="1.45"/>
<line x1="192.4" y1="357.4" x2="192.4" y2="364" stroke="#139a3c" stroke-width="1.45"/>
<line x1="205.6" y1="357.4" x2="205.6" y2="331" stroke="#1a1ae6" stroke-width="1.45"/>
<line x1="210" y1="357.4" x2="210" y2="332.4" stroke="#1a1ae6" stroke-width="1.45"/>
<line x1="214.4" y1="357.4" x2="214.4" y2="332" stroke="#1a1ae6" stroke-width="1.45"/>
<line x1="219" y1="357.4" x2="219" y2="330" stroke="#1a1ae6" stroke-width="1.45"/>
<line x1="223" y1="357.4" x2="223" y2="331.5" stroke="#1a1ae6" stroke-width="1.45"/>
<line x1="227.6" y1="357.4" x2="227.6" y2="332" stroke="#1a1ae6" stroke-width="1.45"/>
<line x1="231.6" y1="357.4" x2="231.6" y2="333.5" stroke="#1a1ae6" stroke-width="1.45"/>
<line x1="236" y1="357.4" x2="236" y2="333.5" stroke="#1a1ae6" stroke-width="1.45"/>
<line x1="241" y1="357.4" x2="241" y2="332" stroke="#1a1ae6" stroke-width="1.45"/>
<line x1="245" y1="357.4" x2="245" y2="333.6" stroke="#1a1ae6" stroke-width="1.45"/>
<line x1="207.9" y1="357.4" x2="207.9" y2="368.3" stroke="#1a1ae6" stroke-width="1.45"/>
<line x1="212.3" y1="357.4" x2="212.3" y2="367.7" stroke="#1a1ae6" stroke-width="1.45"/>
<line x1="216.70000000000002" y1="357.4" x2="216.70000000000002" y2="367.1" stroke="#1a1ae6" stroke-width="1.45"/>
<line x1="221.3" y1="357.4" x2="221.3" y2="368.3" stroke="#1a1ae6" stroke-width="1.45"/>
<line x1="225.3" y1="357.4" x2="225.3" y2="367.7" stroke="#1a1ae6" stroke-width="1.45"/>
<line x1="229.9" y1="357.4" x2="229.9" y2="367.1" stroke="#1a1ae6" stroke-width="1.45"/>
<line x1="233.9" y1="357.4" x2="233.9" y2="368.3" stroke="#1a1ae6" stroke-width="1.45"/>
<line x1="238.3" y1="357.4" x2="238.3" y2="367.7" stroke="#1a1ae6" stroke-width="1.45"/>
<line x1="243.3" y1="357.4" x2="243.3" y2="367.1" stroke="#1a1ae6" stroke-width="1.45"/>
<line x1="247.3" y1="357.4" x2="247.3" y2="368.3" stroke="#1a1ae6" stroke-width="1.45"/>
<line x1="258.4" y1="357.4" x2="258.4" y2="314" stroke="#ff1a1a" stroke-width="1.45"/>
<line x1="263" y1="357.4" x2="263" y2="317" stroke="#ff1a1a" stroke-width="1.45"/>
<line x1="267" y1="357.4" x2="267" y2="315.6" stroke="#ff1a1a" stroke-width="1.45"/>
<line x1="271.4" y1="357.4" x2="271.4" y2="313.6" stroke="#ff1a1a" stroke-width="1.45"/>
<line x1="275.6" y1="357.4" x2="275.6" y2="316" stroke="#ff1a1a" stroke-width="1.45"/>
<line x1="280" y1="357.4" x2="280" y2="316.4" stroke="#ff1a1a" stroke-width="1.45"/>
<line x1="284.4" y1="357.4" x2="284.4" y2="316.4" stroke="#ff1a1a" stroke-width="1.45"/>
<line x1="288.6" y1="357.4" x2="288.6" y2="316" stroke="#ff1a1a" stroke-width="1.45"/>
<line x1="293" y1="357.4" x2="293" y2="315" stroke="#ff1a1a" stroke-width="1.45"/>
<line x1="298" y1="357.4" x2="298" y2="315" stroke="#ff1a1a" stroke-width="1.45"/>
<line x1="260.59999999999997" y1="357.4" x2="260.59999999999997" y2="374.8" stroke="#ff1a1a" stroke-width="1.45"/>
<line x1="265.2" y1="357.4" x2="265.2" y2="373.3" stroke="#ff1a1a" stroke-width="1.45"/>
<line x1="269.2" y1="357.4" x2="269.2" y2="374.8" stroke="#ff1a1a" stroke-width="1.45"/>
<line x1="273.59999999999997" y1="357.4" x2="273.59999999999997" y2="373.3" stroke="#ff1a1a" stroke-width="1.45"/>
<line x1="277.8" y1="357.4" x2="277.8" y2="374.8" stroke="#ff1a1a" stroke-width="1.45"/>
<line x1="282.2" y1="357.4" x2="282.2" y2="373.3" stroke="#ff1a1a" stroke-width="1.45"/>
<line x1="286.59999999999997" y1="357.4" x2="286.59999999999997" y2="374.8" stroke="#ff1a1a" stroke-width="1.45"/>
<line x1="290.8" y1="357.4" x2="290.8" y2="373.3" stroke="#ff1a1a" stroke-width="1.45"/>
<line x1="295.2" y1="357.4" x2="295.2" y2="374.8" stroke="#ff1a1a" stroke-width="1.45"/>
<rect x="93.7" y="296.6" width="213.10000000000002" height="88.0" fill="none" stroke="#333" stroke-width="1.4"/>
<line x1="93.7" y1="302.79999999999995" x2="96.10000000000001" y2="302.79999999999995" stroke="#444" stroke-width="0.9"/>
<line x1="306.8" y1="302.79999999999995" x2="304.40000000000003" y2="302.79999999999995" stroke="#444" stroke-width="0.9"/>
<text x="92.2" y="305.69999999999993" font-size="8.4" font-weight="bold" fill="#222" text-anchor="end" font-family="Liberation Sans, sans-serif" >400</text>
<line x1="93.7" y1="316.45" x2="96.10000000000001" y2="316.45" stroke="#444" stroke-width="0.9"/>
<line x1="306.8" y1="316.45" x2="304.40000000000003" y2="316.45" stroke="#444" stroke-width="0.9"/>
<text x="92.2" y="319.34999999999997" font-size="8.4" font-weight="bold" fill="#222" text-anchor="end" font-family="Liberation Sans, sans-serif" >300</text>
<line x1="93.7" y1="330.09999999999997" x2="96.10000000000001" y2="330.09999999999997" stroke="#444" stroke-width="0.9"/>
<line x1="306.8" y1="330.09999999999997" x2="304.40000000000003" y2="330.09999999999997" stroke="#444" stroke-width="0.9"/>
<text x="92.2" y="332.99999999999994" font-size="8.4" font-weight="bold" fill="#222" text-anchor="end" font-family="Liberation Sans, sans-serif" >200</text>
<line x1="93.7" y1="343.75" x2="96.10000000000001" y2="343.75" stroke="#444" stroke-width="0.9"/>
<line x1="306.8" y1="343.75" x2="304.40000000000003" y2="343.75" stroke="#444" stroke-width="0.9"/>
<text x="92.2" y="346.65" font-size="8.4" font-weight="bold" fill="#222" text-anchor="end" font-family="Liberation Sans, sans-serif" >100</text>
<line x1="93.7" y1="357.4" x2="96.10000000000001" y2="357.4" stroke="#444" stroke-width="0.9"/>
<line x1="306.8" y1="357.4" x2="304.40000000000003" y2="357.4" stroke="#444" stroke-width="0.9"/>
<text x="92.2" y="360.29999999999995" font-size="8.4" font-weight="bold" fill="#222" text-anchor="end" font-family="Liberation Sans, sans-serif" >0</text>
<line x1="93.7" y1="371.04999999999995" x2="96.10000000000001" y2="371.04999999999995" stroke="#444" stroke-width="0.9"/>
<line x1="306.8" y1="371.04999999999995" x2="304.40000000000003" y2="371.04999999999995" stroke="#444" stroke-width="0.9"/>
<text x="92.2" y="373.94999999999993" font-size="8.4" font-weight="bold" fill="#222" text-anchor="end" font-family="Liberation Sans, sans-serif" >-100</text>
<line x1="93.7" y1="384.7" x2="96.10000000000001" y2="384.7" stroke="#444" stroke-width="0.9"/>
<line x1="306.8" y1="384.7" x2="304.40000000000003" y2="384.7" stroke="#444" stroke-width="0.9"/>
<text x="92.2" y="387.59999999999997" font-size="8.4" font-weight="bold" fill="#222" text-anchor="end" font-family="Liberation Sans, sans-serif" >-200</text>
<line x1="93.7" y1="309.625" x2="95.10000000000001" y2="309.625" stroke="#444" stroke-width="0.8"/>
<line x1="306.8" y1="309.625" x2="305.40000000000003" y2="309.625" stroke="#444" stroke-width="0.8"/>
<line x1="93.7" y1="323.275" x2="95.10000000000001" y2="323.275" stroke="#444" stroke-width="0.8"/>
<line x1="306.8" y1="323.275" x2="305.40000000000003" y2="323.275" stroke="#444" stroke-width="0.8"/>
<line x1="93.7" y1="336.92499999999995" x2="95.10000000000001" y2="336.92499999999995" stroke="#444" stroke-width="0.8"/>
<line x1="306.8" y1="336.92499999999995" x2="305.40000000000003" y2="336.92499999999995" stroke="#444" stroke-width="0.8"/>
<line x1="93.7" y1="350.575" x2="95.10000000000001" y2="350.575" stroke="#444" stroke-width="0.8"/>
<line x1="306.8" y1="350.575" x2="305.40000000000003" y2="350.575" stroke="#444" stroke-width="0.8"/>
<line x1="93.7" y1="364.22499999999997" x2="95.10000000000001" y2="364.22499999999997" stroke="#444" stroke-width="0.8"/>
<line x1="306.8" y1="364.22499999999997" x2="305.40000000000003" y2="364.22499999999997" stroke="#444" stroke-width="0.8"/>
<line x1="93.7" y1="377.875" x2="95.10000000000001" y2="377.875" stroke="#444" stroke-width="0.8"/>
<line x1="306.8" y1="377.875" x2="305.40000000000003" y2="377.875" stroke="#444" stroke-width="0.8"/>
<line x1="93.7" y1="384.6" x2="93.7" y2="382.20000000000005" stroke="#444" stroke-width="0.9"/>
<line x1="93.7" y1="296.6" x2="93.7" y2="299.0" stroke="#444" stroke-width="0.9"/>
<text x="93.7" y="393.6" font-size="8.4" font-weight="bold" fill="#222" text-anchor="middle" font-family="Liberation Sans, sans-serif" >0</text>
<line x1="116.5" y1="384.6" x2="116.5" y2="383.20000000000005" stroke="#444" stroke-width="0.9"/>
<line x1="116.5" y1="296.6" x2="116.5" y2="298.0" stroke="#444" stroke-width="0.9"/>
<line x1="139.3" y1="384.6" x2="139.3" y2="382.20000000000005" stroke="#444" stroke-width="0.9"/>
<line x1="139.3" y1="296.6" x2="139.3" y2="299.0" stroke="#444" stroke-width="0.9"/>
<text x="139.3" y="393.6" font-size="8.4" font-weight="bold" fill="#222" text-anchor="middle" font-family="Liberation Sans, sans-serif" >20</text>
<line x1="162.1" y1="384.6" x2="162.1" y2="383.20000000000005" stroke="#444" stroke-width="0.9"/>
<line x1="162.1" y1="296.6" x2="162.1" y2="298.0" stroke="#444" stroke-width="0.9"/>
<line x1="184.89999999999998" y1="384.6" x2="184.89999999999998" y2="382.20000000000005" stroke="#444" stroke-width="0.9"/>
<line x1="184.89999999999998" y1="296.6" x2="184.89999999999998" y2="299.0" stroke="#444" stroke-width="0.9"/>
<text x="184.89999999999998" y="393.6" font-size="8.4" font-weight="bold" fill="#222" text-anchor="middle" font-family="Liberation Sans, sans-serif" >40</text>
<line x1="207.7" y1="384.6" x2="207.7" y2="383.20000000000005" stroke="#444" stroke-width="0.9"/>
<line x1="207.7" y1="296.6" x2="207.7" y2="298.0" stroke="#444" stroke-width="0.9"/>
<line x1="230.5" y1="384.6" x2="230.5" y2="382.20000000000005" stroke="#444" stroke-width="0.9"/>
<line x1="230.5" y1="296.6" x2="230.5" y2="299.0" stroke="#444" stroke-width="0.9"/>
<text x="230.5" y="393.6" font-size="8.4" font-weight="bold" fill="#222" text-anchor="middle" font-family="Liberation Sans, sans-serif" >60</text>
<line x1="253.3" y1="384.6" x2="253.3" y2="383.20000000000005" stroke="#444" stroke-width="0.9"/>
<line x1="253.3" y1="296.6" x2="253.3" y2="298.0" stroke="#444" stroke-width="0.9"/>
<line x1="276.09999999999997" y1="384.6" x2="276.09999999999997" y2="382.20000000000005" stroke="#444" stroke-width="0.9"/>
<line x1="276.09999999999997" y1="296.6" x2="276.09999999999997" y2="299.0" stroke="#444" stroke-width="0.9"/>
<text x="276.09999999999997" y="393.6" font-size="8.4" font-weight="bold" fill="#222" text-anchor="middle" font-family="Liberation Sans, sans-serif" >80</text>
<line x1="298.9" y1="384.6" x2="298.9" y2="383.20000000000005" stroke="#444" stroke-width="0.9"/>
<line x1="298.9" y1="296.6" x2="298.9" y2="298.0" stroke="#444" stroke-width="0.9"/>
<text x="197.96" y="407.2" font-size="9.5" font-weight="bold" fill="#222" text-anchor="middle" font-family="Liberation Sans, sans-serif" >Time (s)</text>
<text x="111.8" y="305.9" font-size="8.1" font-weight="bold" fill="#ff1aff" text-anchor="start" font-family="Liberation Sans, sans-serif"  textLength="29.6" lengthAdjust="spacingAndGlyphs">Pair_(i)</text>
<text x="156.2" y="305.9" font-size="8.1" font-weight="bold" fill="#139a3c" text-anchor="start" font-family="Liberation Sans, sans-serif"  textLength="31.6" lengthAdjust="spacingAndGlyphs">Pair_(ii)</text>
<text x="205.8" y="305.9" font-size="8.1" font-weight="bold" fill="#1a1ae6" text-anchor="start" font-family="Liberation Sans, sans-serif"  textLength="35" lengthAdjust="spacingAndGlyphs">Pair_(iii)</text>
<text x="259.3" y="305.9" font-size="8.1" font-weight="bold" fill="#ff1a1a" text-anchor="start" font-family="Liberation Sans, sans-serif"  textLength="35" lengthAdjust="spacingAndGlyphs">Pair_(iv)</text>
<rect x="119" y="352.4" width="14.599999999999994" height="9.200000000000045" fill="none" stroke="#333" stroke-width="0.75" stroke-dasharray="1 0.8"/>
<rect x="113.3" y="317.2" width="26.10000000000001" height="28.19999999999999" fill="#fff"/>
<line x1="113.3" y1="335.9" x2="139.4" y2="335.9" stroke="#ff1aff" stroke-width="1.7"/>
<line x1="116" y1="335.9" x2="116" y2="324" stroke="#ff1aff" stroke-width="1.2"/>
<line x1="124.4" y1="335.9" x2="124.4" y2="324" stroke="#ff1aff" stroke-width="1.2"/>
<line x1="132.7" y1="335.9" x2="132.7" y2="324" stroke="#ff1aff" stroke-width="1.2"/>
<line x1="120.4" y1="335.9" x2="120.4" y2="341" stroke="#ff1aff" stroke-width="1.2"/>
<line x1="128.4" y1="335.9" x2="128.4" y2="341" stroke="#ff1aff" stroke-width="1.2"/>
<line x1="136.7" y1="335.9" x2="136.7" y2="341" stroke="#ff1aff" stroke-width="1.2"/>
<rect x="113.3" y="317.2" width="26.10000000000001" height="28.19999999999999" fill="none" stroke="#444" stroke-width="0.9"/>
<line x1="113.3" y1="317.59999999999997" x2="114.8" y2="317.59999999999997" stroke="#555" stroke-width="0.7"/>
<text x="111.2" y="319.9" font-size="6.5" font-weight="bold" fill="#222" text-anchor="end" font-family="Liberation Sans, sans-serif" >6</text>
<line x1="113.3" y1="326.75" x2="114.8" y2="326.75" stroke="#555" stroke-width="0.7"/>
<text x="111.2" y="329.05" font-size="6.5" font-weight="bold" fill="#222" text-anchor="end" font-family="Liberation Sans, sans-serif" >3</text>
<line x1="113.3" y1="335.9" x2="114.8" y2="335.9" stroke="#555" stroke-width="0.7"/>
<text x="111.2" y="338.2" font-size="6.5" font-weight="bold" fill="#222" text-anchor="end" font-family="Liberation Sans, sans-serif" >0</text>
<line x1="113.3" y1="345.04999999999995" x2="114.8" y2="345.04999999999995" stroke="#555" stroke-width="0.7"/>
<text x="111.2" y="347.34999999999997" font-size="6.5" font-weight="bold" fill="#222" text-anchor="end" font-family="Liberation Sans, sans-serif" >-3</text>
<text transform="translate(102.7,340.8) rotate(-90)" font-size="6.3" font-weight="bold" fill="#222" text-anchor="start" font-family="Liberation Sans, sans-serif">V<tspan font-size="3.6" dy="1.8" dx="0.4">oc</tspan><tspan dy="-1.8" dx="0.8">(V)</tspan></text>
<text transform="translate(65.6,368.8) rotate(-90)" font-size="9" font-weight="bold" fill="#222" text-anchor="start" font-family="Liberation Sans, sans-serif">V<tspan font-size="5.6" dy="2.7" dx="0.6">open-circuit</tspan><tspan dy="-2.7" dx="0.8">(V)</tspan></text>
<rect x="295.2" y="431.2" width="6.100000000000023" height="74.30000000000001" fill="#b4b4b4" stroke="#7a7a7a" stroke-width="0.8"/>
<line x1="93.7" y1="483.3" x2="146.824" y2="483.3" stroke="#ff1aff" stroke-width="1.5"/>
<line x1="146.824" y1="483.3" x2="199.492" y2="483.3" stroke="#139a3c" stroke-width="1.5"/>
<line x1="199.492" y1="483.3" x2="251.704" y2="483.3" stroke="#1a1ae6" stroke-width="1.5"/>
<line x1="251.704" y1="483.3" x2="306.8" y2="483.3" stroke="#ff1a1a" stroke-width="1.5"/>
<line x1="152" y1="483.3" x2="152" y2="469.4" stroke="#139a3c" stroke-width="1.45"/>
<line x1="157" y1="483.3" x2="157" y2="469.4" stroke="#139a3c" stroke-width="1.45"/>
<line x1="161.8" y1="483.3" x2="161.8" y2="469.2" stroke="#139a3c" stroke-width="1.45"/>
<line x1="166.6" y1="483.3" x2="166.6" y2="469.6" stroke="#139a3c" stroke-width="1.45"/>
<line x1="171" y1="483.3" x2="171" y2="469.4" stroke="#139a3c" stroke-width="1.45"/>
<line x1="175.6" y1="483.3" x2="175.6" y2="469.4" stroke="#139a3c" stroke-width="1.45"/>
<line x1="180" y1="483.3" x2="180" y2="469.2" stroke="#139a3c" stroke-width="1.45"/>
<line x1="184.8" y1="483.3" x2="184.8" y2="469.6" stroke="#139a3c" stroke-width="1.45"/>
<line x1="189.8" y1="483.3" x2="189.8" y2="469.4" stroke="#139a3c" stroke-width="1.45"/>
<line x1="194.6" y1="483.3" x2="194.6" y2="469.8" stroke="#139a3c" stroke-width="1.45"/>
<line x1="154" y1="483.3" x2="154" y2="488.6" stroke="#139a3c" stroke-width="1.45"/>
<line x1="159" y1="483.3" x2="159" y2="488.6" stroke="#139a3c" stroke-width="1.45"/>
<line x1="163.8" y1="483.3" x2="163.8" y2="488.6" stroke="#139a3c" stroke-width="1.45"/>
<line x1="168.6" y1="483.3" x2="168.6" y2="488.6" stroke="#139a3c" stroke-width="1.45"/>
<line x1="173" y1="483.3" x2="173" y2="488.6" stroke="#139a3c" stroke-width="1.45"/>
<line x1="177.6" y1="483.3" x2="177.6" y2="488.6" stroke="#139a3c" stroke-width="1.45"/>
<line x1="182" y1="483.3" x2="182" y2="488.6" stroke="#139a3c" stroke-width="1.45"/>
<line x1="186.8" y1="483.3" x2="186.8" y2="488.6" stroke="#139a3c" stroke-width="1.45"/>
<line x1="191.8" y1="483.3" x2="191.8" y2="488.6" stroke="#139a3c" stroke-width="1.45"/>
<line x1="196.6" y1="483.3" x2="196.6" y2="488.6" stroke="#139a3c" stroke-width="1.45"/>
<line x1="204.8" y1="483.3" x2="204.8" y2="458" stroke="#1a1ae6" stroke-width="1.45"/>
<line x1="209.8" y1="483.3" x2="209.8" y2="456.3" stroke="#1a1ae6" stroke-width="1.45"/>
<line x1="214.2" y1="483.3" x2="214.2" y2="455.4" stroke="#1a1ae6" stroke-width="1.45"/>
<line x1="219" y1="483.3" x2="219" y2="457" stroke="#1a1ae6" stroke-width="1.45"/>
<line x1="223.6" y1="483.3" x2="223.6" y2="454.8" stroke="#1a1ae6" stroke-width="1.45"/>
<line x1="228.4" y1="483.3" x2="228.4" y2="457.6" stroke="#1a1ae6" stroke-width="1.45"/>
<line x1="232.8" y1="483.3" x2="232.8" y2="456.3" stroke="#1a1ae6" stroke-width="1.45"/>
<line x1="237.1" y1="483.3" x2="237.1" y2="455.8" stroke="#1a1ae6" stroke-width="1.45"/>
<line x1="241.5" y1="483.3" x2="241.5" y2="455.4" stroke="#1a1ae6" stroke-width="1.45"/>
<line x1="245.9" y1="483.3" x2="245.9" y2="457" stroke="#1a1ae6" stroke-width="1.45"/>
<line x1="207.0" y1="483.3" x2="207.0" y2="492.6" stroke="#1a1ae6" stroke-width="1.45"/>
<line x1="212.0" y1="483.3" x2="212.0" y2="492.0" stroke="#1a1ae6" stroke-width="1.45"/>
<line x1="216.39999999999998" y1="483.3" x2="216.39999999999998" y2="491.40000000000003" stroke="#1a1ae6" stroke-width="1.45"/>
<line x1="221.2" y1="483.3" x2="221.2" y2="492.6" stroke="#1a1ae6" stroke-width="1.45"/>
<line x1="225.79999999999998" y1="483.3" x2="225.79999999999998" y2="492.0" stroke="#1a1ae6" stroke-width="1.45"/>
<line x1="230.6" y1="483.3" x2="230.6" y2="491.40000000000003" stroke="#1a1ae6" stroke-width="1.45"/>
<line x1="235.0" y1="483.3" x2="235.0" y2="492.6" stroke="#1a1ae6" stroke-width="1.45"/>
<line x1="239.29999999999998" y1="483.3" x2="239.29999999999998" y2="492.0" stroke="#1a1ae6" stroke-width="1.45"/>
<line x1="243.7" y1="483.3" x2="243.7" y2="491.40000000000003" stroke="#1a1ae6" stroke-width="1.45"/>
<line x1="248.1" y1="483.3" x2="248.1" y2="492.6" stroke="#1a1ae6" stroke-width="1.45"/>
<line x1="256.6" y1="483.3" x2="256.6" y2="439" stroke="#ff1a1a" stroke-width="1.45"/>
<line x1="261.4" y1="483.3" x2="261.4" y2="439" stroke="#ff1a1a" stroke-width="1.45"/>
<line x1="265.7" y1="483.3" x2="265.7" y2="439.4" stroke="#ff1a1a" stroke-width="1.45"/>
<line x1="270.8" y1="483.3" x2="270.8" y2="441.7" stroke="#ff1a1a" stroke-width="1.45"/>
<line x1="275.6" y1="483.3" x2="275.6" y2="439" stroke="#ff1a1a" stroke-width="1.45"/>
<line x1="280" y1="483.3" x2="280" y2="439.2" stroke="#ff1a1a" stroke-width="1.45"/>
<line x1="284.5" y1="483.3" x2="284.5" y2="439" stroke="#ff1a1a" stroke-width="1.45"/>
<line x1="288.9" y1="483.3" x2="288.9" y2="439.4" stroke="#ff1a1a" stroke-width="1.45"/>
<line x1="293.2" y1="483.3" x2="293.2" y2="439.2" stroke="#ff1a1a" stroke-width="1.45"/>
<line x1="298" y1="483.3" x2="298" y2="439" stroke="#ff1a1a" stroke-width="1.45"/>
<line x1="258.70000000000005" y1="483.3" x2="258.70000000000005" y2="498.5" stroke="#ff1a1a" stroke-width="1.45"/>
<line x1="263.5" y1="483.3" x2="263.5" y2="497.5" stroke="#ff1a1a" stroke-width="1.45"/>
<line x1="267.8" y1="483.3" x2="267.8" y2="498.5" stroke="#ff1a1a" stroke-width="1.45"/>
<line x1="272.90000000000003" y1="483.3" x2="272.90000000000003" y2="497.5" stroke="#ff1a1a" stroke-width="1.45"/>
<line x1="277.70000000000005" y1="483.3" x2="277.70000000000005" y2="498.5" stroke="#ff1a1a" stroke-width="1.45"/>
<line x1="282.1" y1="483.3" x2="282.1" y2="497.5" stroke="#ff1a1a" stroke-width="1.45"/>
<line x1="286.6" y1="483.3" x2="286.6" y2="498.5" stroke="#ff1a1a" stroke-width="1.45"/>
<line x1="291.0" y1="483.3" x2="291.0" y2="497.5" stroke="#ff1a1a" stroke-width="1.45"/>
<line x1="295.3" y1="483.3" x2="295.3" y2="498.5" stroke="#ff1a1a" stroke-width="1.45"/>
<line x1="300.1" y1="483.3" x2="300.1" y2="497.5" stroke="#ff1a1a" stroke-width="1.45"/>
<rect x="93.7" y="419.9" width="213.10000000000002" height="88.70000000000005" fill="none" stroke="#333" stroke-width="1.4"/>
<line x1="93.7" y1="432.3" x2="96.10000000000001" y2="432.3" stroke="#444" stroke-width="0.9"/>
<line x1="306.8" y1="432.3" x2="304.40000000000003" y2="432.3" stroke="#444" stroke-width="0.9"/>
<text x="92.2" y="435.2" font-size="8.4" font-weight="bold" fill="#222" text-anchor="end" font-family="Liberation Sans, sans-serif" >300</text>
<line x1="93.7" y1="449.3" x2="96.10000000000001" y2="449.3" stroke="#444" stroke-width="0.9"/>
<line x1="306.8" y1="449.3" x2="304.40000000000003" y2="449.3" stroke="#444" stroke-width="0.9"/>
<text x="92.2" y="452.2" font-size="8.4" font-weight="bold" fill="#222" text-anchor="end" font-family="Liberation Sans, sans-serif" >200</text>
<line x1="93.7" y1="466.3" x2="96.10000000000001" y2="466.3" stroke="#444" stroke-width="0.9"/>
<line x1="306.8" y1="466.3" x2="304.40000000000003" y2="466.3" stroke="#444" stroke-width="0.9"/>
<text x="92.2" y="469.2" font-size="8.4" font-weight="bold" fill="#222" text-anchor="end" font-family="Liberation Sans, sans-serif" >100</text>
<line x1="93.7" y1="483.3" x2="96.10000000000001" y2="483.3" stroke="#444" stroke-width="0.9"/>
<line x1="306.8" y1="483.3" x2="304.40000000000003" y2="483.3" stroke="#444" stroke-width="0.9"/>
<text x="92.2" y="486.2" font-size="8.4" font-weight="bold" fill="#222" text-anchor="end" font-family="Liberation Sans, sans-serif" >0</text>
<line x1="93.7" y1="500.3" x2="96.10000000000001" y2="500.3" stroke="#444" stroke-width="0.9"/>
<line x1="306.8" y1="500.3" x2="304.40000000000003" y2="500.3" stroke="#444" stroke-width="0.9"/>
<text x="92.2" y="503.2" font-size="8.4" font-weight="bold" fill="#222" text-anchor="end" font-family="Liberation Sans, sans-serif" >-100</text>
<line x1="93.7" y1="423.8" x2="95.10000000000001" y2="423.8" stroke="#444" stroke-width="0.8"/>
<line x1="306.8" y1="423.8" x2="305.40000000000003" y2="423.8" stroke="#444" stroke-width="0.8"/>
<line x1="93.7" y1="440.8" x2="95.10000000000001" y2="440.8" stroke="#444" stroke-width="0.8"/>
<line x1="306.8" y1="440.8" x2="305.40000000000003" y2="440.8" stroke="#444" stroke-width="0.8"/>
<line x1="93.7" y1="457.8" x2="95.10000000000001" y2="457.8" stroke="#444" stroke-width="0.8"/>
<line x1="306.8" y1="457.8" x2="305.40000000000003" y2="457.8" stroke="#444" stroke-width="0.8"/>
<line x1="93.7" y1="474.8" x2="95.10000000000001" y2="474.8" stroke="#444" stroke-width="0.8"/>
<line x1="306.8" y1="474.8" x2="305.40000000000003" y2="474.8" stroke="#444" stroke-width="0.8"/>
<line x1="93.7" y1="491.8" x2="95.10000000000001" y2="491.8" stroke="#444" stroke-width="0.8"/>
<line x1="306.8" y1="491.8" x2="305.40000000000003" y2="491.8" stroke="#444" stroke-width="0.8"/>
<line x1="93.7" y1="508.8" x2="95.10000000000001" y2="508.8" stroke="#444" stroke-width="0.8"/>
<line x1="306.8" y1="508.8" x2="305.40000000000003" y2="508.8" stroke="#444" stroke-width="0.8"/>
<line x1="93.7" y1="508.6" x2="93.7" y2="506.20000000000005" stroke="#444" stroke-width="0.9"/>
<line x1="93.7" y1="419.9" x2="93.7" y2="422.29999999999995" stroke="#444" stroke-width="0.9"/>
<text x="93.7" y="518.4" font-size="8.4" font-weight="bold" fill="#222" text-anchor="middle" font-family="Liberation Sans, sans-serif" >0</text>
<line x1="116.5" y1="508.6" x2="116.5" y2="507.20000000000005" stroke="#444" stroke-width="0.9"/>
<line x1="116.5" y1="419.9" x2="116.5" y2="421.29999999999995" stroke="#444" stroke-width="0.9"/>
<line x1="139.3" y1="508.6" x2="139.3" y2="506.20000000000005" stroke="#444" stroke-width="0.9"/>
<line x1="139.3" y1="419.9" x2="139.3" y2="422.29999999999995" stroke="#444" stroke-width="0.9"/>
<text x="139.3" y="518.4" font-size="8.4" font-weight="bold" fill="#222" text-anchor="middle" font-family="Liberation Sans, sans-serif" >20</text>
<line x1="162.1" y1="508.6" x2="162.1" y2="507.20000000000005" stroke="#444" stroke-width="0.9"/>
<line x1="162.1" y1="419.9" x2="162.1" y2="421.29999999999995" stroke="#444" stroke-width="0.9"/>
<line x1="184.89999999999998" y1="508.6" x2="184.89999999999998" y2="506.20000000000005" stroke="#444" stroke-width="0.9"/>
<line x1="184.89999999999998" y1="419.9" x2="184.89999999999998" y2="422.29999999999995" stroke="#444" stroke-width="0.9"/>
<text x="184.89999999999998" y="518.4" font-size="8.4" font-weight="bold" fill="#222" text-anchor="middle" font-family="Liberation Sans, sans-serif" >40</text>
<line x1="207.7" y1="508.6" x2="207.7" y2="507.20000000000005" stroke="#444" stroke-width="0.9"/>
<line x1="207.7" y1="419.9" x2="207.7" y2="421.29999999999995" stroke="#444" stroke-width="0.9"/>
<line x1="230.5" y1="508.6" x2="230.5" y2="506.20000000000005" stroke="#444" stroke-width="0.9"/>
<line x1="230.5" y1="419.9" x2="230.5" y2="422.29999999999995" stroke="#444" stroke-width="0.9"/>
<text x="230.5" y="518.4" font-size="8.4" font-weight="bold" fill="#222" text-anchor="middle" font-family="Liberation Sans, sans-serif" >60</text>
<line x1="253.3" y1="508.6" x2="253.3" y2="507.20000000000005" stroke="#444" stroke-width="0.9"/>
<line x1="253.3" y1="419.9" x2="253.3" y2="421.29999999999995" stroke="#444" stroke-width="0.9"/>
<line x1="276.09999999999997" y1="508.6" x2="276.09999999999997" y2="506.20000000000005" stroke="#444" stroke-width="0.9"/>
<line x1="276.09999999999997" y1="419.9" x2="276.09999999999997" y2="422.29999999999995" stroke="#444" stroke-width="0.9"/>
<text x="276.09999999999997" y="518.4" font-size="8.4" font-weight="bold" fill="#222" text-anchor="middle" font-family="Liberation Sans, sans-serif" >80</text>
<line x1="298.9" y1="508.6" x2="298.9" y2="507.20000000000005" stroke="#444" stroke-width="0.9"/>
<line x1="298.9" y1="419.9" x2="298.9" y2="421.29999999999995" stroke="#444" stroke-width="0.9"/>
<text x="197.96" y="532.4" font-size="9.5" font-weight="bold" fill="#222" text-anchor="middle" font-family="Liberation Sans, sans-serif" >Time (s)</text>
<text x="111.8" y="429.3" font-size="8.1" font-weight="bold" fill="#ff1aff" text-anchor="start" font-family="Liberation Sans, sans-serif"  textLength="29.6" lengthAdjust="spacingAndGlyphs">Pair_(i)</text>
<text x="156.2" y="429.3" font-size="8.1" font-weight="bold" fill="#139a3c" text-anchor="start" font-family="Liberation Sans, sans-serif"  textLength="31.6" lengthAdjust="spacingAndGlyphs">Pair_(ii)</text>
<text x="205.8" y="429.3" font-size="8.1" font-weight="bold" fill="#1a1ae6" text-anchor="start" font-family="Liberation Sans, sans-serif"  textLength="35" lengthAdjust="spacingAndGlyphs">Pair_(iii)</text>
<text x="259.3" y="429.3" font-size="8.1" font-weight="bold" fill="#ff1a1a" text-anchor="start" font-family="Liberation Sans, sans-serif"  textLength="35" lengthAdjust="spacingAndGlyphs">Pair_(iv)</text>
<rect x="118.3" y="478.7" width="14.200000000000003" height="8.699999999999989" fill="none" stroke="#333" stroke-width="0.75" stroke-dasharray="1 0.8"/>
<rect x="113.4" y="441.2" width="27.19999999999999" height="29.80000000000001" fill="#fff"/>
<line x1="113.4" y1="460.9" x2="140.6" y2="460.9" stroke="#ff1aff" stroke-width="1.7"/>
<line x1="115.5" y1="460.9" x2="115.5" y2="448.8" stroke="#ff1aff" stroke-width="1.2"/>
<line x1="124.4" y1="460.9" x2="124.4" y2="448.8" stroke="#ff1aff" stroke-width="1.2"/>
<line x1="134.7" y1="460.9" x2="134.7" y2="448.8" stroke="#ff1aff" stroke-width="1.2"/>
<line x1="117.9" y1="460.9" x2="117.9" y2="466.2" stroke="#ff1aff" stroke-width="1.2"/>
<line x1="128.1" y1="460.9" x2="128.1" y2="466.2" stroke="#ff1aff" stroke-width="1.2"/>
<line x1="138" y1="460.9" x2="138" y2="466.2" stroke="#ff1aff" stroke-width="1.2"/>
<rect x="113.4" y="441.2" width="27.19999999999999" height="29.80000000000001" fill="none" stroke="#444" stroke-width="0.9"/>
<line x1="113.4" y1="441.21999999999997" x2="114.9" y2="441.21999999999997" stroke="#555" stroke-width="0.7"/>
<text x="111.30000000000001" y="443.52" font-size="6.5" font-weight="bold" fill="#222" text-anchor="end" font-family="Liberation Sans, sans-serif" >4</text>
<line x1="113.4" y1="451.06" x2="114.9" y2="451.06" stroke="#555" stroke-width="0.7"/>
<text x="111.30000000000001" y="453.36" font-size="6.5" font-weight="bold" fill="#222" text-anchor="end" font-family="Liberation Sans, sans-serif" >2</text>
<line x1="113.4" y1="460.9" x2="114.9" y2="460.9" stroke="#555" stroke-width="0.7"/>
<text x="111.30000000000001" y="463.2" font-size="6.5" font-weight="bold" fill="#222" text-anchor="end" font-family="Liberation Sans, sans-serif" >0</text>
<line x1="113.4" y1="470.73999999999995" x2="114.9" y2="470.73999999999995" stroke="#555" stroke-width="0.7"/>
<text x="111.30000000000001" y="473.03999999999996" font-size="6.5" font-weight="bold" fill="#222" text-anchor="end" font-family="Liberation Sans, sans-serif" >-2</text>
<text transform="translate(104,474.4) rotate(-90)" font-size="6.2" font-weight="bold" fill="#222" text-anchor="start" font-family="Liberation Sans, sans-serif">J<tspan font-size="3.6" dy="1.7" dx="0.3">sc</tspan><tspan dy="-1.7" dx="0.6" font-size="6.6">(mA/m</tspan><tspan font-size="4" dy="-2.8">2</tspan><tspan dy="2.8" font-size="6.6">)</tspan></text>
<text transform="translate(67.6,507.8) rotate(-90)" font-size="9.2" font-weight="bold" fill="#222" text-anchor="start" font-family="Liberation Sans, sans-serif">J<tspan font-size="5.5" dy="2.7" dx="0.6">short-circuit</tspan><tspan dy="-2.7" dx="0.8">(mA/m</tspan><tspan font-size="5.6" dy="-4.2">2</tspan><tspan dy="4.2">)</tspan></text>
<line x1="301.6" y1="307.6" x2="325.7" y2="296.8" stroke="#a08838" stroke-width="1.1" stroke-dasharray="1.2 1.3"/>
<line x1="301.6" y1="382.4" x2="325.7" y2="384.2" stroke="#a08838" stroke-width="1.1" stroke-dasharray="1.2 1.3"/>
<line x1="301.3" y1="431.2" x2="325.7" y2="420" stroke="#a08838" stroke-width="1.1" stroke-dasharray="1.2 1.3"/>
<line x1="301.3" y1="505.5" x2="325.7" y2="508.6" stroke="#a08838" stroke-width="1.1" stroke-dasharray="1.2 1.3"/>
<rect x="325.7" y="296.8" width="115.30000000000001" height="87.39999999999998" fill="none" stroke="#444" stroke-width="1.1"/>
<path d="M325.7,357.5 L353.7,357.5 L354.3,315.2 L354.8,315.2 L355.4,357.3 Q356.5,357.9 358.5,357.7 L402.8,357.5 Q404.2,358.0 404.5,361.5 L404.6,374.3 L405.1,374.3 L405.2,360.5 Q405.6,357.5 406.8,357.5 L441,357.5" fill="none" stroke="#111" stroke-width="1" stroke-linejoin="round"/>
<line x1="334.3" y1="384.2" x2="334.3" y2="382.0" stroke="#444" stroke-width="0.8"/>
<text x="337.5" y="393.8" font-size="8.7" font-weight="bold" fill="#222" text-anchor="middle" font-family="Liberation Sans, sans-serif" >89.55</text>
<line x1="373.6" y1="384.2" x2="373.6" y2="382.0" stroke="#444" stroke-width="0.8"/>
<text x="376.4" y="393.8" font-size="8.7" font-weight="bold" fill="#222" text-anchor="middle" font-family="Liberation Sans, sans-serif" >89.80</text>
<line x1="412.8" y1="384.2" x2="412.8" y2="382.0" stroke="#444" stroke-width="0.8"/>
<text x="415.1" y="393.8" font-size="8.7" font-weight="bold" fill="#222" text-anchor="middle" font-family="Liberation Sans, sans-serif" >90.05</text>
<line x1="354" y1="384.2" x2="354" y2="382.8" stroke="#444" stroke-width="0.7"/>
<line x1="393.2" y1="384.2" x2="393.2" y2="382.8" stroke="#444" stroke-width="0.7"/>
<line x1="432.5" y1="384.2" x2="432.5" y2="382.8" stroke="#444" stroke-width="0.7"/>
<text x="383.8" y="406.7" font-size="8.8" font-weight="bold" fill="#222" text-anchor="middle" font-family="Liberation Sans, sans-serif" >Time (s)</text>
<rect x="325.7" y="419.9" width="115.69999999999999" height="88.70000000000005" fill="none" stroke="#444" stroke-width="1.1"/>
<path d="M325.7,484 L356.0,484 L356.6,437.2 L357.1,437.2 L357.7,483.8 Q358.8,484.4 360.8,484.2 L406.2,484 Q407.59999999999997,484.5 407.9,488 L408.0,500.3 L408.5,500.3 L408.59999999999997,487 Q409.0,484 410.2,484 L441.4,484" fill="none" stroke="#111" stroke-width="1" stroke-linejoin="round"/>
<line x1="349.5" y1="508.6" x2="349.5" y2="506.40000000000003" stroke="#444" stroke-width="0.8"/>
<text x="350.8" y="518.1" font-size="8.7" font-weight="bold" fill="#222" text-anchor="middle" font-family="Liberation Sans, sans-serif" >89.41</text>
<line x1="387.9" y1="508.6" x2="387.9" y2="506.40000000000003" stroke="#444" stroke-width="0.8"/>
<text x="388.5" y="518.1" font-size="8.7" font-weight="bold" fill="#222" text-anchor="middle" font-family="Liberation Sans, sans-serif" >89.61</text>
<line x1="426.2" y1="508.6" x2="426.2" y2="506.40000000000003" stroke="#444" stroke-width="0.8"/>
<text x="426.4" y="518.1" font-size="8.7" font-weight="bold" fill="#222" text-anchor="middle" font-family="Liberation Sans, sans-serif" >89.81</text>
<line x1="330.3" y1="508.6" x2="330.3" y2="507.20000000000005" stroke="#444" stroke-width="0.7"/>
<line x1="368.7" y1="508.6" x2="368.7" y2="507.20000000000005" stroke="#444" stroke-width="0.7"/>
<line x1="407" y1="508.6" x2="407" y2="507.20000000000005" stroke="#444" stroke-width="0.7"/>
<text x="383.8" y="531.4" font-size="8.8" font-weight="bold" fill="#222" text-anchor="middle" font-family="Liberation Sans, sans-serif" >Time (s)</text>
</svg>
</body></html>
